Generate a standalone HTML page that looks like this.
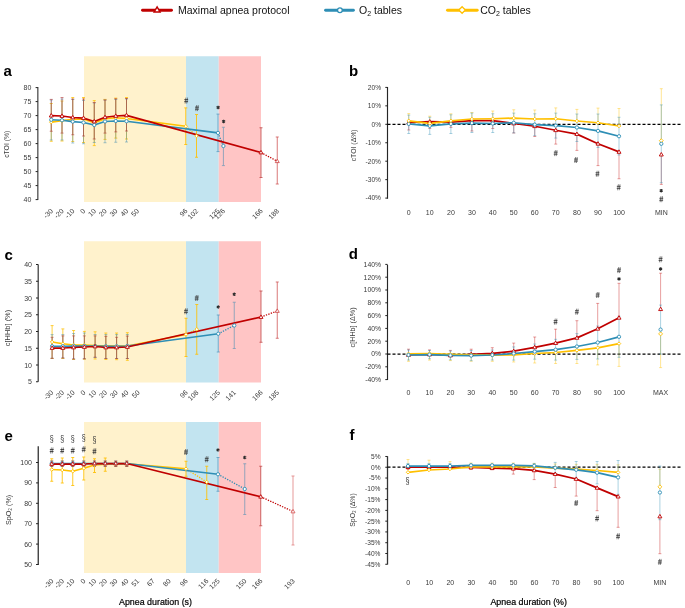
<!DOCTYPE html>
<html><head><meta charset="utf-8"><style>
html,body{margin:0;padding:0;background:#fff;width:685px;height:608px;overflow:hidden}
svg{display:block;will-change:transform}
text{font-family:"Liberation Sans",sans-serif}
</style></head><body>
<svg width="685" height="608" viewBox="0 0 685 608" font-family="Liberation Sans, sans-serif">
<rect width="685" height="608" fill="#fff"/>
<line x1="142.5" y1="10.2" x2="171.5" y2="10.2" stroke="#C00000" stroke-width="2.9" stroke-linecap="round"/>
<polygon points="157.1,6.85 160.09,12.05 154.11,12.05" fill="#fff" stroke="#C00000" stroke-width="1.4"/>
<text x="178" y="13.8" font-size="10.5" text-anchor="start" fill="#111" font-weight="normal" >Maximal apnea protocol</text>
<line x1="325.6" y1="10.2" x2="353.4" y2="10.2" stroke="#2E8EB5" stroke-width="2.9" stroke-linecap="round"/>
<circle cx="339.9" cy="10.2" r="2.39" fill="#fff" stroke="#2E8EB5" stroke-width="1.3"/>
<text x="359" y="13.8" font-size="10.5" fill="#111">O<tspan font-size="7" dy="2">2</tspan><tspan dy="-2"> tables</tspan></text>
<line x1="447.5" y1="10.2" x2="477.2" y2="10.2" stroke="#FFC000" stroke-width="2.9" stroke-linecap="round"/>
<polygon points="462.1,6.7 465.4,10 462.1,13.3 458.8,10" fill="#fff" stroke="#FFC000" stroke-width="1.3"/>
<text x="480.2" y="13.8" font-size="10.5" fill="#111">CO<tspan font-size="7" dy="2">2</tspan><tspan dy="-2"> tables</tspan></text>
<rect x="84" y="56.25" width="102" height="145.75" fill="#FFF2CC"/>
<rect x="186" y="56.25" width="32.75" height="145.75" fill="#C2E4F0"/>
<rect x="218.75" y="56.25" width="42.25" height="145.75" fill="#FFC5C5"/>
<text x="3.5" y="76" font-size="15" text-anchor="start" fill="#000" font-weight="bold" >a</text>
<line x1="37.8" y1="87.1" x2="37.8" y2="200" stroke="#666" stroke-width="1.5" />
<line x1="35.6" y1="87.6" x2="37.8" y2="87.6" stroke="#222" stroke-width="1" />
<text x="31.3" y="90.12" font-size="7.0" text-anchor="end" fill="#3a3a3a" font-weight="normal" >80</text>
<line x1="35.6" y1="101.6" x2="37.8" y2="101.6" stroke="#222" stroke-width="1" />
<text x="31.3" y="104.12" font-size="7.0" text-anchor="end" fill="#3a3a3a" font-weight="normal" >75</text>
<line x1="35.6" y1="115.6" x2="37.8" y2="115.6" stroke="#222" stroke-width="1" />
<text x="31.3" y="118.12" font-size="7.0" text-anchor="end" fill="#3a3a3a" font-weight="normal" >70</text>
<line x1="35.6" y1="129.6" x2="37.8" y2="129.6" stroke="#222" stroke-width="1" />
<text x="31.3" y="132.12" font-size="7.0" text-anchor="end" fill="#3a3a3a" font-weight="normal" >65</text>
<line x1="35.6" y1="143.6" x2="37.8" y2="143.6" stroke="#222" stroke-width="1" />
<text x="31.3" y="146.12" font-size="7.0" text-anchor="end" fill="#3a3a3a" font-weight="normal" >60</text>
<line x1="35.6" y1="157.6" x2="37.8" y2="157.6" stroke="#222" stroke-width="1" />
<text x="31.3" y="160.12" font-size="7.0" text-anchor="end" fill="#3a3a3a" font-weight="normal" >55</text>
<line x1="35.6" y1="171.6" x2="37.8" y2="171.6" stroke="#222" stroke-width="1" />
<text x="31.3" y="174.12" font-size="7.0" text-anchor="end" fill="#3a3a3a" font-weight="normal" >50</text>
<line x1="35.6" y1="185.6" x2="37.8" y2="185.6" stroke="#222" stroke-width="1" />
<text x="31.3" y="188.12" font-size="7.0" text-anchor="end" fill="#3a3a3a" font-weight="normal" >45</text>
<line x1="35.6" y1="199.6" x2="37.8" y2="199.6" stroke="#222" stroke-width="1" />
<text x="31.3" y="202.12" font-size="7.0" text-anchor="end" fill="#3a3a3a" font-weight="normal" >40</text>
<text transform="translate(9,144.3) rotate(-90)" x="0" y="0" font-size="8" text-anchor="middle" fill="#3a3a3a" textLength="27" lengthAdjust="spacingAndGlyphs">cTOI (%)</text>
<text transform="translate(53.45,211.6) rotate(-45)" x="0" y="0" font-size="7.0" text-anchor="end" fill="#3a3a3a">-30</text>
<text transform="translate(64.2,211.6) rotate(-45)" x="0" y="0" font-size="7.0" text-anchor="end" fill="#3a3a3a">-20</text>
<text transform="translate(74.95,211.6) rotate(-45)" x="0" y="0" font-size="7.0" text-anchor="end" fill="#3a3a3a">-10</text>
<text transform="translate(85.7,211.6) rotate(-45)" x="0" y="0" font-size="7.0" text-anchor="end" fill="#3a3a3a">0</text>
<text transform="translate(96.45,211.6) rotate(-45)" x="0" y="0" font-size="7.0" text-anchor="end" fill="#3a3a3a">10</text>
<text transform="translate(107.2,211.6) rotate(-45)" x="0" y="0" font-size="7.0" text-anchor="end" fill="#3a3a3a">20</text>
<text transform="translate(117.95,211.6) rotate(-45)" x="0" y="0" font-size="7.0" text-anchor="end" fill="#3a3a3a">30</text>
<text transform="translate(128.7,211.6) rotate(-45)" x="0" y="0" font-size="7.0" text-anchor="end" fill="#3a3a3a">40</text>
<text transform="translate(139.45,211.6) rotate(-45)" x="0" y="0" font-size="7.0" text-anchor="end" fill="#3a3a3a">50</text>
<text transform="translate(187.95,211.6) rotate(-45)" x="0" y="0" font-size="7.0" text-anchor="end" fill="#3a3a3a">96</text>
<text transform="translate(198.7,211.6) rotate(-45)" x="0" y="0" font-size="7.0" text-anchor="end" fill="#3a3a3a">102</text>
<text transform="translate(220.2,211.6) rotate(-45)" x="0" y="0" font-size="7.0" text-anchor="end" fill="#3a3a3a">125</text>
<text transform="translate(225.6,211.6) rotate(-45)" x="0" y="0" font-size="7.0" text-anchor="end" fill="#3a3a3a">126</text>
<text transform="translate(263.2,211.6) rotate(-45)" x="0" y="0" font-size="7.0" text-anchor="end" fill="#3a3a3a">166</text>
<text transform="translate(279.45,211.6) rotate(-45)" x="0" y="0" font-size="7.0" text-anchor="end" fill="#3a3a3a">188</text>
<g stroke="#FFC000" stroke-width="1" stroke-opacity="0.75"><line x1="51.25" y1="103.5" x2="51.25" y2="141.25"/><line x1="49.75" y1="103.5" x2="52.75" y2="103.5"/><line x1="49.75" y1="141.25" x2="52.75" y2="141.25"/></g>
<g stroke="#4A90B0" stroke-width="1" stroke-opacity="0.5"><line x1="51.25" y1="100" x2="51.25" y2="140"/><line x1="49.75" y1="100" x2="52.75" y2="100"/><line x1="49.75" y1="140" x2="52.75" y2="140"/></g>
<g stroke="#B03030" stroke-width="1" stroke-opacity="0.55"><line x1="51.25" y1="99.4" x2="51.25" y2="131.25"/><line x1="49.75" y1="99.4" x2="52.75" y2="99.4"/><line x1="49.75" y1="131.25" x2="52.75" y2="131.25"/></g>
<g stroke="#FFC000" stroke-width="1" stroke-opacity="0.75"><line x1="62" y1="101" x2="62" y2="141"/><line x1="60.5" y1="101" x2="63.5" y2="101"/><line x1="60.5" y1="141" x2="63.5" y2="141"/></g>
<g stroke="#4A90B0" stroke-width="1" stroke-opacity="0.5"><line x1="62" y1="99" x2="62" y2="140"/><line x1="60.5" y1="99" x2="63.5" y2="99"/><line x1="60.5" y1="140" x2="63.5" y2="140"/></g>
<g stroke="#B03030" stroke-width="1" stroke-opacity="0.55"><line x1="62" y1="97.5" x2="62" y2="133.1"/><line x1="60.5" y1="97.5" x2="63.5" y2="97.5"/><line x1="60.5" y1="133.1" x2="63.5" y2="133.1"/></g>
<g stroke="#FFC000" stroke-width="1" stroke-opacity="0.75"><line x1="72.75" y1="97.5" x2="72.75" y2="141.5"/><line x1="71.25" y1="97.5" x2="74.25" y2="97.5"/><line x1="71.25" y1="141.5" x2="74.25" y2="141.5"/></g>
<g stroke="#4A90B0" stroke-width="1" stroke-opacity="0.5"><line x1="72.75" y1="99.5" x2="72.75" y2="143"/><line x1="71.25" y1="99.5" x2="74.25" y2="99.5"/><line x1="71.25" y1="143" x2="74.25" y2="143"/></g>
<g stroke="#B03030" stroke-width="1" stroke-opacity="0.55"><line x1="72.75" y1="99" x2="72.75" y2="134.75"/><line x1="71.25" y1="99" x2="74.25" y2="99"/><line x1="71.25" y1="134.75" x2="74.25" y2="134.75"/></g>
<g stroke="#FFC000" stroke-width="1" stroke-opacity="0.75"><line x1="83.5" y1="97.5" x2="83.5" y2="142.5"/><line x1="82" y1="97.5" x2="85" y2="97.5"/><line x1="82" y1="142.5" x2="85" y2="142.5"/></g>
<g stroke="#4A90B0" stroke-width="1" stroke-opacity="0.5"><line x1="83.5" y1="100.5" x2="83.5" y2="143.75"/><line x1="82" y1="100.5" x2="85" y2="100.5"/><line x1="82" y1="143.75" x2="85" y2="143.75"/></g>
<g stroke="#B03030" stroke-width="1" stroke-opacity="0.55"><line x1="83.5" y1="99" x2="83.5" y2="136"/><line x1="82" y1="99" x2="85" y2="99"/><line x1="82" y1="136" x2="85" y2="136"/></g>
<g stroke="#FFC000" stroke-width="1" stroke-opacity="0.75"><line x1="94.25" y1="100.6" x2="94.25" y2="145.6"/><line x1="92.75" y1="100.6" x2="95.75" y2="100.6"/><line x1="92.75" y1="145.6" x2="95.75" y2="145.6"/></g>
<g stroke="#4A90B0" stroke-width="1" stroke-opacity="0.5"><line x1="94.25" y1="103" x2="94.25" y2="142.5"/><line x1="92.75" y1="103" x2="95.75" y2="103"/><line x1="92.75" y1="142.5" x2="95.75" y2="142.5"/></g>
<g stroke="#B03030" stroke-width="1" stroke-opacity="0.55"><line x1="94.25" y1="102.5" x2="94.25" y2="139"/><line x1="92.75" y1="102.5" x2="95.75" y2="102.5"/><line x1="92.75" y1="139" x2="95.75" y2="139"/></g>
<g stroke="#FFC000" stroke-width="1" stroke-opacity="0.75"><line x1="105" y1="99.4" x2="105" y2="139.4"/><line x1="103.5" y1="99.4" x2="106.5" y2="99.4"/><line x1="103.5" y1="139.4" x2="106.5" y2="139.4"/></g>
<g stroke="#4A90B0" stroke-width="1" stroke-opacity="0.5"><line x1="105" y1="100" x2="105" y2="142.75"/><line x1="103.5" y1="100" x2="106.5" y2="100"/><line x1="103.5" y1="142.75" x2="106.5" y2="142.75"/></g>
<g stroke="#B03030" stroke-width="1" stroke-opacity="0.55"><line x1="105" y1="100" x2="105" y2="133.1"/><line x1="103.5" y1="100" x2="106.5" y2="100"/><line x1="103.5" y1="133.1" x2="106.5" y2="133.1"/></g>
<g stroke="#FFC000" stroke-width="1" stroke-opacity="0.75"><line x1="115.75" y1="98.1" x2="115.75" y2="138.1"/><line x1="114.25" y1="98.1" x2="117.25" y2="98.1"/><line x1="114.25" y1="138.1" x2="117.25" y2="138.1"/></g>
<g stroke="#4A90B0" stroke-width="1" stroke-opacity="0.5"><line x1="115.75" y1="99.5" x2="115.75" y2="142.25"/><line x1="114.25" y1="99.5" x2="117.25" y2="99.5"/><line x1="114.25" y1="142.25" x2="117.25" y2="142.25"/></g>
<g stroke="#B03030" stroke-width="1" stroke-opacity="0.55"><line x1="115.75" y1="98.75" x2="115.75" y2="131.9"/><line x1="114.25" y1="98.75" x2="117.25" y2="98.75"/><line x1="114.25" y1="131.9" x2="117.25" y2="131.9"/></g>
<g stroke="#FFC000" stroke-width="1" stroke-opacity="0.75"><line x1="126.5" y1="97.5" x2="126.5" y2="139"/><line x1="125" y1="97.5" x2="128" y2="97.5"/><line x1="125" y1="139" x2="128" y2="139"/></g>
<g stroke="#4A90B0" stroke-width="1" stroke-opacity="0.5"><line x1="126.5" y1="99" x2="126.5" y2="142"/><line x1="125" y1="99" x2="128" y2="99"/><line x1="125" y1="142" x2="128" y2="142"/></g>
<g stroke="#B03030" stroke-width="1" stroke-opacity="0.55"><line x1="126.5" y1="98.5" x2="126.5" y2="131"/><line x1="125" y1="98.5" x2="128" y2="98.5"/><line x1="125" y1="131" x2="128" y2="131"/></g>
<g stroke="#FFC000" stroke-width="1" stroke-opacity="0.85"><line x1="185.75" y1="107.9" x2="185.75" y2="144.5"/><line x1="184.25" y1="107.9" x2="187.25" y2="107.9"/><line x1="184.25" y1="144.5" x2="187.25" y2="144.5"/></g>
<g stroke="#FFC000" stroke-width="1" stroke-opacity="0.85"><line x1="196.5" y1="114.5" x2="196.5" y2="157.25"/><line x1="195" y1="114.5" x2="198" y2="114.5"/><line x1="195" y1="157.25" x2="198" y2="157.25"/></g>
<g stroke="#5A9CC0" stroke-width="1" stroke-opacity="0.8"><line x1="218" y1="114.1" x2="218" y2="151.6"/><line x1="216.5" y1="114.1" x2="219.5" y2="114.1"/><line x1="216.5" y1="151.6" x2="219.5" y2="151.6"/></g>
<g stroke="#7A9CB8" stroke-width="1" stroke-opacity="0.8"><line x1="223.4" y1="127.25" x2="223.4" y2="165.6"/><line x1="221.9" y1="127.25" x2="224.9" y2="127.25"/><line x1="221.9" y1="165.6" x2="224.9" y2="165.6"/></g>
<g stroke="#C04848" stroke-width="1" stroke-opacity="0.8"><line x1="261" y1="127.75" x2="261" y2="177.5"/><line x1="259.5" y1="127.75" x2="262.5" y2="127.75"/><line x1="259.5" y1="177.5" x2="262.5" y2="177.5"/></g>
<g stroke="#D05858" stroke-width="1" stroke-opacity="0.8"><line x1="277.25" y1="137" x2="277.25" y2="184"/><line x1="275.75" y1="137" x2="278.75" y2="137"/><line x1="275.75" y1="184" x2="278.75" y2="184"/></g>
<polyline points="51.25,122.1 62,120.6 72.75,119.4 83.5,119 94.25,122.75 105,118.75 115.75,117.75 126.5,118.5 185.75,126.25" fill="none" stroke="#FFC000" stroke-width="1.75" stroke-linejoin="round" />
<line x1="185.75" y1="126.25" x2="196.5" y2="135.9" stroke="#FFC000" stroke-width="1.3" stroke-dasharray="1.3,1.3"/>
<polyline points="51.25,119.75 62,120.25 72.75,121.6 83.5,122.5 94.25,125 105,121.5 115.75,121 126.5,121.25 218,132.9" fill="none" stroke="#2E8EB5" stroke-width="1.75" stroke-linejoin="round" />
<line x1="218" y1="132.9" x2="223.4" y2="146" stroke="#2E8EB5" stroke-width="1.3" stroke-dasharray="1.3,1.3"/>
<polyline points="51.25,115.6 62,116 72.75,117.5 83.5,118.1 94.25,121.5 105,117.25 115.75,116 126.5,115.3 261,152.5" fill="none" stroke="#C00000" stroke-width="1.75" stroke-linejoin="round" />
<line x1="261" y1="152.5" x2="277.25" y2="161.25" stroke="#C00000" stroke-width="1.3" stroke-dasharray="1.3,1.3"/>
<polygon points="51.25,120.34 53.01,122.1 51.25,123.86 49.49,122.1" fill="#fff" stroke="#FFC000" stroke-width="0.9"/>
<circle cx="51.25" cy="119.75" r="1.65" fill="#fff" stroke="#2E8EB5" stroke-width="0.9"/>
<polygon points="51.25,113.5 53.24,116.96 49.26,116.96" fill="#fff" stroke="#C00000" stroke-width="0.9"/>
<polygon points="62,118.84 63.76,120.6 62,122.36 60.24,120.6" fill="#fff" stroke="#FFC000" stroke-width="0.9"/>
<circle cx="62" cy="120.25" r="1.65" fill="#fff" stroke="#2E8EB5" stroke-width="0.9"/>
<polygon points="62,113.9 63.99,117.36 60.01,117.36" fill="#fff" stroke="#C00000" stroke-width="0.9"/>
<polygon points="72.75,117.64 74.51,119.4 72.75,121.16 70.99,119.4" fill="#fff" stroke="#FFC000" stroke-width="0.9"/>
<circle cx="72.75" cy="121.6" r="1.65" fill="#fff" stroke="#2E8EB5" stroke-width="0.9"/>
<polygon points="72.75,115.4 74.75,118.86 70.75,118.86" fill="#fff" stroke="#C00000" stroke-width="0.9"/>
<polygon points="83.5,117.24 85.26,119 83.5,120.76 81.74,119" fill="#fff" stroke="#FFC000" stroke-width="0.9"/>
<circle cx="83.5" cy="122.5" r="1.65" fill="#fff" stroke="#2E8EB5" stroke-width="0.9"/>
<polygon points="83.5,116 85.5,119.46 81.5,119.46" fill="#fff" stroke="#C00000" stroke-width="0.9"/>
<polygon points="94.25,120.99 96.01,122.75 94.25,124.51 92.49,122.75" fill="#fff" stroke="#FFC000" stroke-width="0.9"/>
<circle cx="94.25" cy="125" r="1.65" fill="#fff" stroke="#2E8EB5" stroke-width="0.9"/>
<polygon points="94.25,119.4 96.25,122.86 92.25,122.86" fill="#fff" stroke="#C00000" stroke-width="0.9"/>
<polygon points="105,116.99 106.76,118.75 105,120.51 103.24,118.75" fill="#fff" stroke="#FFC000" stroke-width="0.9"/>
<circle cx="105" cy="121.5" r="1.65" fill="#fff" stroke="#2E8EB5" stroke-width="0.9"/>
<polygon points="105,115.15 107,118.61 103,118.61" fill="#fff" stroke="#C00000" stroke-width="0.9"/>
<polygon points="115.75,115.99 117.51,117.75 115.75,119.51 113.99,117.75" fill="#fff" stroke="#FFC000" stroke-width="0.9"/>
<circle cx="115.75" cy="121" r="1.65" fill="#fff" stroke="#2E8EB5" stroke-width="0.9"/>
<polygon points="115.75,113.9 117.75,117.36 113.75,117.36" fill="#fff" stroke="#C00000" stroke-width="0.9"/>
<polygon points="126.5,116.74 128.26,118.5 126.5,120.26 124.74,118.5" fill="#fff" stroke="#FFC000" stroke-width="0.9"/>
<circle cx="126.5" cy="121.25" r="1.65" fill="#fff" stroke="#2E8EB5" stroke-width="0.9"/>
<polygon points="126.5,113.2 128.5,116.66 124.5,116.66" fill="#fff" stroke="#C00000" stroke-width="0.9"/>
<polygon points="185.75,124.49 187.51,126.25 185.75,128.01 183.99,126.25" fill="#fff" stroke="#FFC000" stroke-width="0.9"/>
<polygon points="196.5,134.14 198.26,135.9 196.5,137.66 194.74,135.9" fill="#fff" stroke="#FFC000" stroke-width="0.9"/>
<circle cx="218" cy="132.9" r="1.65" fill="#fff" stroke="#2E8EB5" stroke-width="0.9"/>
<circle cx="223.4" cy="146" r="1.65" fill="#fff" stroke="#2E8EB5" stroke-width="0.9"/>
<polygon points="261,150.4 263,153.87 259,153.87" fill="#fff" stroke="#C00000" stroke-width="0.9"/>
<polygon points="277.25,159.15 279.25,162.62 275.25,162.62" fill="#fff" stroke="#D05050" stroke-width="0.9"/>
<path d="M185.9,97.6 L185.1,103.6 M187.5,97.6 L186.7,103.6" stroke="#3a3a3a" stroke-width="0.6" fill="none"/>
<path d="M184.35,99.65 L188.15,99.65 M184.25,101.65 L188.05,101.65" stroke="#2a2a2a" stroke-width="0.85" fill="none"/>
<path d="M196.65,105.1 L195.85,111.1 M198.25,105.1 L197.45,111.1" stroke="#3a3a3a" stroke-width="0.6" fill="none"/>
<path d="M195.1,107.15 L198.9,107.15 M195,109.15 L198.8,109.15" stroke="#2a2a2a" stroke-width="0.85" fill="none"/>
<path d="M218.1,105.65 L218.1,109.15 M216.58,106.53 L219.62,108.28 M219.62,106.53 L216.58,108.28" stroke="#2a2a2a" stroke-width="1.05" fill="none"/>
<path d="M223.6,119.65 L223.6,123.15 M222.08,120.53 L225.12,122.28 M225.12,120.53 L222.08,122.28" stroke="#2a2a2a" stroke-width="1.05" fill="none"/>
<text x="349" y="75.5" font-size="15" text-anchor="start" fill="#000" font-weight="bold" >b</text>
<line x1="387.5" y1="87" x2="387.5" y2="198.75" stroke="#262626" stroke-width="1.15" />
<line x1="385.3" y1="87.4" x2="387.5" y2="87.4" stroke="#222" stroke-width="1" />
<text x="381" y="89.78" font-size="6.6" text-anchor="end" fill="#3a3a3a" font-weight="normal" >20%</text>
<line x1="385.3" y1="105.85" x2="387.5" y2="105.85" stroke="#222" stroke-width="1" />
<text x="381" y="108.23" font-size="6.6" text-anchor="end" fill="#3a3a3a" font-weight="normal" >10%</text>
<line x1="385.3" y1="124.3" x2="387.5" y2="124.3" stroke="#222" stroke-width="1" />
<text x="381" y="126.68" font-size="6.6" text-anchor="end" fill="#3a3a3a" font-weight="normal" >0%</text>
<line x1="385.3" y1="142.75" x2="387.5" y2="142.75" stroke="#222" stroke-width="1" />
<text x="381" y="145.13" font-size="6.6" text-anchor="end" fill="#3a3a3a" font-weight="normal" >-10%</text>
<line x1="385.3" y1="161.2" x2="387.5" y2="161.2" stroke="#222" stroke-width="1" />
<text x="381" y="163.58" font-size="6.6" text-anchor="end" fill="#3a3a3a" font-weight="normal" >-20%</text>
<line x1="385.3" y1="179.65" x2="387.5" y2="179.65" stroke="#222" stroke-width="1" />
<text x="381" y="182.03" font-size="6.6" text-anchor="end" fill="#3a3a3a" font-weight="normal" >-30%</text>
<line x1="385.3" y1="198.1" x2="387.5" y2="198.1" stroke="#222" stroke-width="1" />
<text x="381" y="200.48" font-size="6.6" text-anchor="end" fill="#3a3a3a" font-weight="normal" >-40%</text>
<text transform="translate(355.6,145.35) rotate(-90)" x="0" y="0" font-size="8" text-anchor="middle" fill="#3a3a3a" textLength="32" lengthAdjust="spacingAndGlyphs">cTOI (Δ%)</text>
<text x="408.75" y="215.2" font-size="7.0" text-anchor="middle" fill="#3a3a3a" font-weight="normal" >0</text>
<text x="429.75" y="215.2" font-size="7.0" text-anchor="middle" fill="#3a3a3a" font-weight="normal" >10</text>
<text x="450.9" y="215.2" font-size="7.0" text-anchor="middle" fill="#3a3a3a" font-weight="normal" >20</text>
<text x="471.9" y="215.2" font-size="7.0" text-anchor="middle" fill="#3a3a3a" font-weight="normal" >30</text>
<text x="492.75" y="215.2" font-size="7.0" text-anchor="middle" fill="#3a3a3a" font-weight="normal" >40</text>
<text x="513.75" y="215.2" font-size="7.0" text-anchor="middle" fill="#3a3a3a" font-weight="normal" >50</text>
<text x="534.75" y="215.2" font-size="7.0" text-anchor="middle" fill="#3a3a3a" font-weight="normal" >60</text>
<text x="555.75" y="215.2" font-size="7.0" text-anchor="middle" fill="#3a3a3a" font-weight="normal" >70</text>
<text x="576.9" y="215.2" font-size="7.0" text-anchor="middle" fill="#3a3a3a" font-weight="normal" >80</text>
<text x="598" y="215.2" font-size="7.0" text-anchor="middle" fill="#3a3a3a" font-weight="normal" >90</text>
<text x="619" y="215.2" font-size="7.0" text-anchor="middle" fill="#3a3a3a" font-weight="normal" >100</text>
<text x="661.3" y="215.2" font-size="7.0" text-anchor="middle" fill="#3a3a3a" font-weight="normal" >MIN</text>
<line x1="387.5" y1="124.3" x2="682.5" y2="124.3" stroke="#000" stroke-width="1.2" stroke-dasharray="3,2"/>
<g stroke="#FFC000" stroke-width="1" stroke-opacity="0.42"><line x1="408.75" y1="120.8" x2="408.75" y2="113.6"/><line x1="407.25" y1="113.6" x2="410.25" y2="113.6"/></g>
<g stroke="#C00000" stroke-width="1" stroke-opacity="0.38"><line x1="408.75" y1="122.5" x2="408.75" y2="130"/><line x1="407.25" y1="130" x2="410.25" y2="130"/></g>
<g stroke="#2E8EB5" stroke-width="1" stroke-opacity="0.4"><line x1="408.75" y1="115.1" x2="408.75" y2="133.5"/><line x1="407.25" y1="115.1" x2="410.25" y2="115.1"/><line x1="407.25" y1="133.5" x2="410.25" y2="133.5"/></g>
<g stroke="#FFC000" stroke-width="1" stroke-opacity="0.42"><line x1="429.75" y1="123.4" x2="429.75" y2="116.2"/><line x1="428.25" y1="116.2" x2="431.25" y2="116.2"/></g>
<g stroke="#C00000" stroke-width="1" stroke-opacity="0.38"><line x1="429.75" y1="121.7" x2="429.75" y2="128.5"/><line x1="428.25" y1="128.5" x2="431.25" y2="128.5"/></g>
<g stroke="#2E8EB5" stroke-width="1" stroke-opacity="0.4"><line x1="429.75" y1="117.3" x2="429.75" y2="134.4"/><line x1="428.25" y1="117.3" x2="431.25" y2="117.3"/><line x1="428.25" y1="134.4" x2="431.25" y2="134.4"/></g>
<g stroke="#FFC000" stroke-width="1" stroke-opacity="0.42"><line x1="450.9" y1="120.8" x2="450.9" y2="113.8"/><line x1="449.4" y1="113.8" x2="452.4" y2="113.8"/></g>
<g stroke="#C00000" stroke-width="1" stroke-opacity="0.38"><line x1="450.9" y1="122.1" x2="450.9" y2="127.4"/><line x1="449.4" y1="127.4" x2="452.4" y2="127.4"/></g>
<g stroke="#2E8EB5" stroke-width="1" stroke-opacity="0.4"><line x1="450.9" y1="114.8" x2="450.9" y2="133.5"/><line x1="449.4" y1="114.8" x2="452.4" y2="114.8"/><line x1="449.4" y1="133.5" x2="452.4" y2="133.5"/></g>
<g stroke="#FFC000" stroke-width="1" stroke-opacity="0.42"><line x1="471.9" y1="119" x2="471.9" y2="112.5"/><line x1="470.4" y1="112.5" x2="473.4" y2="112.5"/></g>
<g stroke="#C00000" stroke-width="1" stroke-opacity="0.38"><line x1="471.9" y1="120.6" x2="471.9" y2="131"/><line x1="470.4" y1="131" x2="473.4" y2="131"/></g>
<g stroke="#2E8EB5" stroke-width="1" stroke-opacity="0.4"><line x1="471.9" y1="113.1" x2="471.9" y2="132.5"/><line x1="470.4" y1="113.1" x2="473.4" y2="113.1"/><line x1="470.4" y1="132.5" x2="473.4" y2="132.5"/></g>
<g stroke="#FFC000" stroke-width="1" stroke-opacity="0.42"><line x1="492.75" y1="118.75" x2="492.75" y2="111"/><line x1="491.25" y1="111" x2="494.25" y2="111"/></g>
<g stroke="#C00000" stroke-width="1" stroke-opacity="0.38"><line x1="492.75" y1="120.6" x2="492.75" y2="128.5"/><line x1="491.25" y1="128.5" x2="494.25" y2="128.5"/></g>
<g stroke="#2E8EB5" stroke-width="1" stroke-opacity="0.4"><line x1="492.75" y1="113.75" x2="492.75" y2="132.5"/><line x1="491.25" y1="113.75" x2="494.25" y2="113.75"/><line x1="491.25" y1="132.5" x2="494.25" y2="132.5"/></g>
<g stroke="#FFC000" stroke-width="1" stroke-opacity="0.42"><line x1="513.75" y1="118.1" x2="513.75" y2="109.75"/><line x1="512.25" y1="109.75" x2="515.25" y2="109.75"/></g>
<g stroke="#C00000" stroke-width="1" stroke-opacity="0.38"><line x1="513.75" y1="123.5" x2="513.75" y2="133"/><line x1="512.25" y1="133" x2="515.25" y2="133"/></g>
<g stroke="#2E8EB5" stroke-width="1" stroke-opacity="0.4"><line x1="513.75" y1="113.1" x2="513.75" y2="132.9"/><line x1="512.25" y1="113.1" x2="515.25" y2="113.1"/><line x1="512.25" y1="132.9" x2="515.25" y2="132.9"/></g>
<g stroke="#FFC000" stroke-width="1" stroke-opacity="0.42"><line x1="534.75" y1="119" x2="534.75" y2="110"/><line x1="533.25" y1="110" x2="536.25" y2="110"/></g>
<g stroke="#C00000" stroke-width="1" stroke-opacity="0.38"><line x1="534.75" y1="126.25" x2="534.75" y2="136.5"/><line x1="533.25" y1="136.5" x2="536.25" y2="136.5"/></g>
<g stroke="#2E8EB5" stroke-width="1" stroke-opacity="0.4"><line x1="534.75" y1="113.75" x2="534.75" y2="135.6"/><line x1="533.25" y1="113.75" x2="536.25" y2="113.75"/><line x1="533.25" y1="135.6" x2="536.25" y2="135.6"/></g>
<g stroke="#FFC000" stroke-width="1" stroke-opacity="0.42"><line x1="555.75" y1="118.75" x2="555.75" y2="107.9"/><line x1="554.25" y1="107.9" x2="557.25" y2="107.9"/></g>
<g stroke="#C00000" stroke-width="1" stroke-opacity="0.38"><line x1="555.75" y1="130.25" x2="555.75" y2="144.1"/><line x1="554.25" y1="144.1" x2="557.25" y2="144.1"/></g>
<g stroke="#2E8EB5" stroke-width="1" stroke-opacity="0.4"><line x1="555.75" y1="113.1" x2="555.75" y2="138.1"/><line x1="554.25" y1="113.1" x2="557.25" y2="113.1"/><line x1="554.25" y1="138.1" x2="557.25" y2="138.1"/></g>
<g stroke="#FFC000" stroke-width="1" stroke-opacity="0.42"><line x1="576.9" y1="121" x2="576.9" y2="109.4"/><line x1="575.4" y1="109.4" x2="578.4" y2="109.4"/></g>
<g stroke="#C00000" stroke-width="1" stroke-opacity="0.38"><line x1="576.9" y1="134.1" x2="576.9" y2="150.4"/><line x1="575.4" y1="150.4" x2="578.4" y2="150.4"/></g>
<g stroke="#2E8EB5" stroke-width="1" stroke-opacity="0.4"><line x1="576.9" y1="114" x2="576.9" y2="141.5"/><line x1="575.4" y1="114" x2="578.4" y2="114"/><line x1="575.4" y1="141.5" x2="578.4" y2="141.5"/></g>
<g stroke="#FFC000" stroke-width="1" stroke-opacity="0.42"><line x1="598" y1="122.75" x2="598" y2="108.1"/><line x1="596.5" y1="108.1" x2="599.5" y2="108.1"/></g>
<g stroke="#C00000" stroke-width="1" stroke-opacity="0.38"><line x1="598" y1="143.75" x2="598" y2="165.6"/><line x1="596.5" y1="165.6" x2="599.5" y2="165.6"/></g>
<g stroke="#2E8EB5" stroke-width="1" stroke-opacity="0.4"><line x1="598" y1="114" x2="598" y2="147.5"/><line x1="596.5" y1="114" x2="599.5" y2="114"/><line x1="596.5" y1="147.5" x2="599.5" y2="147.5"/></g>
<g stroke="#FFC000" stroke-width="1" stroke-opacity="0.42"><line x1="619" y1="126" x2="619" y2="108.5"/><line x1="617.5" y1="108.5" x2="620.5" y2="108.5"/></g>
<g stroke="#C00000" stroke-width="1" stroke-opacity="0.38"><line x1="619" y1="151.9" x2="619" y2="178.75"/><line x1="617.5" y1="178.75" x2="620.5" y2="178.75"/></g>
<g stroke="#2E8EB5" stroke-width="1" stroke-opacity="0.4"><line x1="619" y1="117.25" x2="619" y2="155"/><line x1="617.5" y1="117.25" x2="620.5" y2="117.25"/><line x1="617.5" y1="155" x2="620.5" y2="155"/></g>
<g stroke="#FFC000" stroke-width="1" stroke-opacity="0.42"><line x1="661.3" y1="140.7" x2="661.3" y2="88.7"/><line x1="659.8" y1="88.7" x2="662.8" y2="88.7"/></g>
<g stroke="#C00000" stroke-width="1" stroke-opacity="0.38"><line x1="661.3" y1="154.6" x2="661.3" y2="184.4"/><line x1="659.8" y1="184.4" x2="662.8" y2="184.4"/></g>
<g stroke="#2E8EB5" stroke-width="1" stroke-opacity="0.4"><line x1="661.3" y1="104.9" x2="661.3" y2="182.7"/><line x1="659.8" y1="104.9" x2="662.8" y2="104.9"/><line x1="659.8" y1="182.7" x2="662.8" y2="182.7"/></g>
<polyline points="408.75,122.5 429.75,121.7 450.9,122.1 471.9,120.6 492.75,120.6 513.75,123.5 534.75,126.25 555.75,130.25 576.9,134.1 598,143.75 619,151.9" fill="none" stroke="#C00000" stroke-width="1.75" stroke-linejoin="round" />
<polyline points="408.75,123.9 429.75,125.9 450.9,123.9 471.9,123.1 492.75,123.5 513.75,122.75 534.75,124.6 555.75,125.6 576.9,127.5 598,130.9 619,136.25" fill="none" stroke="#2E8EB5" stroke-width="1.75" stroke-linejoin="round" />
<polyline points="408.75,120.8 429.75,123.4 450.9,120.8 471.9,119 492.75,118.75 513.75,118.1 534.75,119 555.75,118.75 576.9,121 598,122.75 619,126" fill="none" stroke="#FFC000" stroke-width="1.75" stroke-linejoin="round" />
<polygon points="408.75,120.4 410.75,123.86 406.75,123.86" fill="#fff" stroke="#C00000" stroke-width="0.9"/>
<circle cx="408.75" cy="123.9" r="1.65" fill="#fff" stroke="#2E8EB5" stroke-width="0.9"/>
<polygon points="408.75,119.04 410.51,120.8 408.75,122.56 406.99,120.8" fill="#fff" stroke="#FFC000" stroke-width="0.9"/>
<polygon points="429.75,119.6 431.75,123.06 427.75,123.06" fill="#fff" stroke="#C00000" stroke-width="0.9"/>
<circle cx="429.75" cy="125.9" r="1.65" fill="#fff" stroke="#2E8EB5" stroke-width="0.9"/>
<polygon points="429.75,121.64 431.51,123.4 429.75,125.16 427.99,123.4" fill="#fff" stroke="#FFC000" stroke-width="0.9"/>
<polygon points="450.9,120 452.89,123.46 448.9,123.46" fill="#fff" stroke="#C00000" stroke-width="0.9"/>
<circle cx="450.9" cy="123.9" r="1.65" fill="#fff" stroke="#2E8EB5" stroke-width="0.9"/>
<polygon points="450.9,119.04 452.66,120.8 450.9,122.56 449.14,120.8" fill="#fff" stroke="#FFC000" stroke-width="0.9"/>
<polygon points="471.9,118.5 473.89,121.96 469.9,121.96" fill="#fff" stroke="#C00000" stroke-width="0.9"/>
<circle cx="471.9" cy="123.1" r="1.65" fill="#fff" stroke="#2E8EB5" stroke-width="0.9"/>
<polygon points="471.9,117.24 473.66,119 471.9,120.76 470.14,119" fill="#fff" stroke="#FFC000" stroke-width="0.9"/>
<polygon points="492.75,118.5 494.75,121.96 490.75,121.96" fill="#fff" stroke="#C00000" stroke-width="0.9"/>
<circle cx="492.75" cy="123.5" r="1.65" fill="#fff" stroke="#2E8EB5" stroke-width="0.9"/>
<polygon points="492.75,116.99 494.51,118.75 492.75,120.51 490.99,118.75" fill="#fff" stroke="#FFC000" stroke-width="0.9"/>
<polygon points="513.75,121.4 515.75,124.86 511.75,124.86" fill="#fff" stroke="#C00000" stroke-width="0.9"/>
<circle cx="513.75" cy="122.75" r="1.65" fill="#fff" stroke="#2E8EB5" stroke-width="0.9"/>
<polygon points="513.75,116.34 515.51,118.1 513.75,119.86 511.99,118.1" fill="#fff" stroke="#FFC000" stroke-width="0.9"/>
<polygon points="534.75,124.15 536.75,127.61 532.75,127.61" fill="#fff" stroke="#C00000" stroke-width="0.9"/>
<circle cx="534.75" cy="124.6" r="1.65" fill="#fff" stroke="#2E8EB5" stroke-width="0.9"/>
<polygon points="534.75,117.24 536.51,119 534.75,120.76 532.99,119" fill="#fff" stroke="#FFC000" stroke-width="0.9"/>
<polygon points="555.75,128.15 557.75,131.62 553.75,131.62" fill="#fff" stroke="#C00000" stroke-width="0.9"/>
<circle cx="555.75" cy="125.6" r="1.65" fill="#fff" stroke="#2E8EB5" stroke-width="0.9"/>
<polygon points="555.75,116.99 557.51,118.75 555.75,120.51 553.99,118.75" fill="#fff" stroke="#FFC000" stroke-width="0.9"/>
<polygon points="576.9,132 578.89,135.47 574.9,135.47" fill="#fff" stroke="#C00000" stroke-width="0.9"/>
<circle cx="576.9" cy="127.5" r="1.65" fill="#fff" stroke="#2E8EB5" stroke-width="0.9"/>
<polygon points="576.9,119.24 578.66,121 576.9,122.76 575.14,121" fill="#fff" stroke="#FFC000" stroke-width="0.9"/>
<polygon points="598,141.65 600,145.12 596,145.12" fill="#fff" stroke="#C00000" stroke-width="0.9"/>
<circle cx="598" cy="130.9" r="1.65" fill="#fff" stroke="#2E8EB5" stroke-width="0.9"/>
<polygon points="598,120.99 599.76,122.75 598,124.51 596.24,122.75" fill="#fff" stroke="#FFC000" stroke-width="0.9"/>
<polygon points="619,149.8 621,153.27 617,153.27" fill="#fff" stroke="#C00000" stroke-width="0.9"/>
<circle cx="619" cy="136.25" r="1.65" fill="#fff" stroke="#2E8EB5" stroke-width="0.9"/>
<polygon points="619,124.24 620.76,126 619,127.76 617.24,126" fill="#fff" stroke="#FFC000" stroke-width="0.9"/>
<polygon points="661.3,138.72 663.28,140.7 661.3,142.68 659.32,140.7" fill="#fff" stroke="#FFC000" stroke-width="0.9"/>
<circle cx="661.3" cy="143.8" r="1.65" fill="#fff" stroke="#2E8EB5" stroke-width="0.9"/>
<polygon points="661.3,152.5 663.29,155.97 659.3,155.97" fill="#fff" stroke="#C00000" stroke-width="0.9"/>
<path d="M555.4,150.1 L554.6,156.1 M557,150.1 L556.2,156.1" stroke="#3a3a3a" stroke-width="0.6" fill="none"/>
<path d="M553.85,152.15 L557.65,152.15 M553.75,154.15 L557.55,154.15" stroke="#2a2a2a" stroke-width="0.85" fill="none"/>
<path d="M575.65,157 L574.85,163 M577.25,157 L576.45,163" stroke="#3a3a3a" stroke-width="0.6" fill="none"/>
<path d="M574.1,159.05 L577.9,159.05 M574,161.05 L577.8,161.05" stroke="#2a2a2a" stroke-width="0.85" fill="none"/>
<path d="M597.15,170.75 L596.35,176.75 M598.75,170.75 L597.95,176.75" stroke="#3a3a3a" stroke-width="0.6" fill="none"/>
<path d="M595.6,172.8 L599.4,172.8 M595.5,174.8 L599.3,174.8" stroke="#2a2a2a" stroke-width="0.85" fill="none"/>
<path d="M618.4,184.25 L617.6,190.25 M620,184.25 L619.2,190.25" stroke="#3a3a3a" stroke-width="0.6" fill="none"/>
<path d="M616.85,186.3 L620.65,186.3 M616.75,188.3 L620.55,188.3" stroke="#2a2a2a" stroke-width="0.85" fill="none"/>
<path d="M661.2,188.95 L661.2,192.45 M659.68,189.82 L662.72,191.57 M662.72,189.82 L659.68,191.57" stroke="#2a2a2a" stroke-width="1.05" fill="none"/>
<path d="M660.95,196.2 L660.15,202.2 M662.55,196.2 L661.75,202.2" stroke="#3a3a3a" stroke-width="0.6" fill="none"/>
<path d="M659.4,198.25 L663.2,198.25 M659.3,200.25 L663.1,200.25" stroke="#2a2a2a" stroke-width="0.85" fill="none"/>
<rect x="84" y="241.25" width="102" height="141.25" fill="#FFF2CC"/>
<rect x="186" y="241.25" width="32.75" height="141.25" fill="#C2E4F0"/>
<rect x="218.75" y="241.25" width="42.25" height="141.25" fill="#FFC5C5"/>
<text x="4.5" y="260" font-size="15" text-anchor="start" fill="#000" font-weight="bold" >c</text>
<line x1="38.2" y1="264.5" x2="38.2" y2="381.75" stroke="#333" stroke-width="1.2" />
<line x1="36" y1="264.5" x2="38.2" y2="264.5" stroke="#222" stroke-width="1" />
<text x="32" y="267.02" font-size="7.0" text-anchor="end" fill="#3a3a3a" font-weight="normal" >40</text>
<line x1="36" y1="281.25" x2="38.2" y2="281.25" stroke="#222" stroke-width="1" />
<text x="32" y="283.77" font-size="7.0" text-anchor="end" fill="#3a3a3a" font-weight="normal" >35</text>
<line x1="36" y1="298" x2="38.2" y2="298" stroke="#222" stroke-width="1" />
<text x="32" y="300.52" font-size="7.0" text-anchor="end" fill="#3a3a3a" font-weight="normal" >30</text>
<line x1="36" y1="314.75" x2="38.2" y2="314.75" stroke="#222" stroke-width="1" />
<text x="32" y="317.27" font-size="7.0" text-anchor="end" fill="#3a3a3a" font-weight="normal" >25</text>
<line x1="36" y1="331.5" x2="38.2" y2="331.5" stroke="#222" stroke-width="1" />
<text x="32" y="334.02" font-size="7.0" text-anchor="end" fill="#3a3a3a" font-weight="normal" >20</text>
<line x1="36" y1="348.25" x2="38.2" y2="348.25" stroke="#222" stroke-width="1" />
<text x="32" y="350.77" font-size="7.0" text-anchor="end" fill="#3a3a3a" font-weight="normal" >15</text>
<line x1="36" y1="365" x2="38.2" y2="365" stroke="#222" stroke-width="1" />
<text x="32" y="367.52" font-size="7.0" text-anchor="end" fill="#3a3a3a" font-weight="normal" >10</text>
<line x1="36" y1="381.75" x2="38.2" y2="381.75" stroke="#222" stroke-width="1" />
<text x="32" y="384.27" font-size="7.0" text-anchor="end" fill="#3a3a3a" font-weight="normal" >5</text>
<text transform="translate(9.9,328) rotate(-90)" x="0" y="0" font-size="7.8" text-anchor="middle" fill="#3a3a3a" textLength="36.5" lengthAdjust="spacingAndGlyphs">c[HHb] (%)</text>
<text transform="translate(53.8,392.9) rotate(-45)" x="0" y="0" font-size="7.0" text-anchor="end" fill="#3a3a3a">-30</text>
<text transform="translate(64.55,392.9) rotate(-45)" x="0" y="0" font-size="7.0" text-anchor="end" fill="#3a3a3a">-20</text>
<text transform="translate(75.3,392.9) rotate(-45)" x="0" y="0" font-size="7.0" text-anchor="end" fill="#3a3a3a">-10</text>
<text transform="translate(86.05,392.9) rotate(-45)" x="0" y="0" font-size="7.0" text-anchor="end" fill="#3a3a3a">0</text>
<text transform="translate(96.8,392.9) rotate(-45)" x="0" y="0" font-size="7.0" text-anchor="end" fill="#3a3a3a">10</text>
<text transform="translate(107.55,392.9) rotate(-45)" x="0" y="0" font-size="7.0" text-anchor="end" fill="#3a3a3a">20</text>
<text transform="translate(118.3,392.9) rotate(-45)" x="0" y="0" font-size="7.0" text-anchor="end" fill="#3a3a3a">30</text>
<text transform="translate(129.05,392.9) rotate(-45)" x="0" y="0" font-size="7.0" text-anchor="end" fill="#3a3a3a">40</text>
<text transform="translate(140.2,392.9) rotate(-45)" x="0" y="0" font-size="7.0" text-anchor="end" fill="#3a3a3a">50</text>
<text transform="translate(188.2,392.9) rotate(-45)" x="0" y="0" font-size="7.0" text-anchor="end" fill="#3a3a3a">96</text>
<text transform="translate(198.95,392.9) rotate(-45)" x="0" y="0" font-size="7.0" text-anchor="end" fill="#3a3a3a">108</text>
<text transform="translate(220.45,392.9) rotate(-45)" x="0" y="0" font-size="7.0" text-anchor="end" fill="#3a3a3a">125</text>
<text transform="translate(236.45,392.9) rotate(-45)" x="0" y="0" font-size="7.0" text-anchor="end" fill="#3a3a3a">141</text>
<text transform="translate(263.2,392.9) rotate(-45)" x="0" y="0" font-size="7.0" text-anchor="end" fill="#3a3a3a">166</text>
<text transform="translate(279.45,392.9) rotate(-45)" x="0" y="0" font-size="7.0" text-anchor="end" fill="#3a3a3a">185</text>
<g stroke="#FFC000" stroke-width="1" stroke-opacity="0.75"><line x1="52.1" y1="325.6" x2="52.1" y2="358.5"/><line x1="50.6" y1="325.6" x2="53.6" y2="325.6"/><line x1="50.6" y1="358.5" x2="53.6" y2="358.5"/></g>
<g stroke="#4A90B0" stroke-width="1" stroke-opacity="0.5"><line x1="52.1" y1="334.6" x2="52.1" y2="358.3"/><line x1="50.6" y1="334.6" x2="53.6" y2="334.6"/><line x1="50.6" y1="358.3" x2="53.6" y2="358.3"/></g>
<g stroke="#B03030" stroke-width="1" stroke-opacity="0.55"><line x1="52.1" y1="337.3" x2="52.1" y2="358.3"/><line x1="50.6" y1="337.3" x2="53.6" y2="337.3"/><line x1="50.6" y1="358.3" x2="53.6" y2="358.3"/></g>
<g stroke="#FFC000" stroke-width="1" stroke-opacity="0.75"><line x1="62.85" y1="328.9" x2="62.85" y2="358.5"/><line x1="61.35" y1="328.9" x2="64.35" y2="328.9"/><line x1="61.35" y1="358.5" x2="64.35" y2="358.5"/></g>
<g stroke="#4A90B0" stroke-width="1" stroke-opacity="0.5"><line x1="62.85" y1="334.6" x2="62.85" y2="358"/><line x1="61.35" y1="334.6" x2="64.35" y2="334.6"/><line x1="61.35" y1="358" x2="64.35" y2="358"/></g>
<g stroke="#B03030" stroke-width="1" stroke-opacity="0.55"><line x1="62.85" y1="335.9" x2="62.85" y2="358"/><line x1="61.35" y1="335.9" x2="64.35" y2="335.9"/><line x1="61.35" y1="358" x2="64.35" y2="358"/></g>
<g stroke="#FFC000" stroke-width="1" stroke-opacity="0.75"><line x1="73.6" y1="330.5" x2="73.6" y2="359.5"/><line x1="72.1" y1="330.5" x2="75.1" y2="330.5"/><line x1="72.1" y1="359.5" x2="75.1" y2="359.5"/></g>
<g stroke="#4A90B0" stroke-width="1" stroke-opacity="0.5"><line x1="73.6" y1="333.5" x2="73.6" y2="359"/><line x1="72.1" y1="333.5" x2="75.1" y2="333.5"/><line x1="72.1" y1="359" x2="75.1" y2="359"/></g>
<g stroke="#B03030" stroke-width="1" stroke-opacity="0.55"><line x1="73.6" y1="335.9" x2="73.6" y2="359"/><line x1="72.1" y1="335.9" x2="75.1" y2="335.9"/><line x1="72.1" y1="359" x2="75.1" y2="359"/></g>
<g stroke="#FFC000" stroke-width="1" stroke-opacity="0.75"><line x1="84.35" y1="331.4" x2="84.35" y2="359.2"/><line x1="82.85" y1="331.4" x2="85.85" y2="331.4"/><line x1="82.85" y1="359.2" x2="85.85" y2="359.2"/></g>
<g stroke="#4A90B0" stroke-width="1" stroke-opacity="0.5"><line x1="84.35" y1="333" x2="84.35" y2="358.8"/><line x1="82.85" y1="333" x2="85.85" y2="333"/><line x1="82.85" y1="358.8" x2="85.85" y2="358.8"/></g>
<g stroke="#B03030" stroke-width="1" stroke-opacity="0.55"><line x1="84.35" y1="335.9" x2="84.35" y2="358.8"/><line x1="82.85" y1="335.9" x2="85.85" y2="335.9"/><line x1="82.85" y1="358.8" x2="85.85" y2="358.8"/></g>
<g stroke="#FFC000" stroke-width="1" stroke-opacity="0.75"><line x1="95.1" y1="331.8" x2="95.1" y2="359"/><line x1="93.6" y1="331.8" x2="96.6" y2="331.8"/><line x1="93.6" y1="359" x2="96.6" y2="359"/></g>
<g stroke="#4A90B0" stroke-width="1" stroke-opacity="0.5"><line x1="95.1" y1="334.5" x2="95.1" y2="357.5"/><line x1="93.6" y1="334.5" x2="96.6" y2="334.5"/><line x1="93.6" y1="357.5" x2="96.6" y2="357.5"/></g>
<g stroke="#B03030" stroke-width="1" stroke-opacity="0.55"><line x1="95.1" y1="335.9" x2="95.1" y2="357.2"/><line x1="93.6" y1="335.9" x2="96.6" y2="335.9"/><line x1="93.6" y1="357.2" x2="96.6" y2="357.2"/></g>
<g stroke="#FFC000" stroke-width="1" stroke-opacity="0.75"><line x1="105.85" y1="333" x2="105.85" y2="359.5"/><line x1="104.35" y1="333" x2="107.35" y2="333"/><line x1="104.35" y1="359.5" x2="107.35" y2="359.5"/></g>
<g stroke="#4A90B0" stroke-width="1" stroke-opacity="0.5"><line x1="105.85" y1="334.6" x2="105.85" y2="358.5"/><line x1="104.35" y1="334.6" x2="107.35" y2="334.6"/><line x1="104.35" y1="358.5" x2="107.35" y2="358.5"/></g>
<g stroke="#B03030" stroke-width="1" stroke-opacity="0.55"><line x1="105.85" y1="336.4" x2="105.85" y2="358.5"/><line x1="104.35" y1="336.4" x2="107.35" y2="336.4"/><line x1="104.35" y1="358.5" x2="107.35" y2="358.5"/></g>
<g stroke="#FFC000" stroke-width="1" stroke-opacity="0.75"><line x1="116.6" y1="333" x2="116.6" y2="359.7"/><line x1="115.1" y1="333" x2="118.1" y2="333"/><line x1="115.1" y1="359.7" x2="118.1" y2="359.7"/></g>
<g stroke="#4A90B0" stroke-width="1" stroke-opacity="0.5"><line x1="116.6" y1="334.6" x2="116.6" y2="358.5"/><line x1="115.1" y1="334.6" x2="118.1" y2="334.6"/><line x1="115.1" y1="358.5" x2="118.1" y2="358.5"/></g>
<g stroke="#B03030" stroke-width="1" stroke-opacity="0.55"><line x1="116.6" y1="337.3" x2="116.6" y2="358.5"/><line x1="115.1" y1="337.3" x2="118.1" y2="337.3"/><line x1="115.1" y1="358.5" x2="118.1" y2="358.5"/></g>
<g stroke="#FFC000" stroke-width="1" stroke-opacity="0.75"><line x1="127.35" y1="332.7" x2="127.35" y2="360.3"/><line x1="125.85" y1="332.7" x2="128.85" y2="332.7"/><line x1="125.85" y1="360.3" x2="128.85" y2="360.3"/></g>
<g stroke="#4A90B0" stroke-width="1" stroke-opacity="0.5"><line x1="127.35" y1="334.5" x2="127.35" y2="358.5"/><line x1="125.85" y1="334.5" x2="128.85" y2="334.5"/><line x1="125.85" y1="358.5" x2="128.85" y2="358.5"/></g>
<g stroke="#B03030" stroke-width="1" stroke-opacity="0.55"><line x1="127.35" y1="336.1" x2="127.35" y2="358.5"/><line x1="125.85" y1="336.1" x2="128.85" y2="336.1"/><line x1="125.85" y1="358.5" x2="128.85" y2="358.5"/></g>
<g stroke="#FFC000" stroke-width="1" stroke-opacity="0.85"><line x1="186" y1="318.25" x2="186" y2="356.5"/><line x1="184.5" y1="318.25" x2="187.5" y2="318.25"/><line x1="184.5" y1="356.5" x2="187.5" y2="356.5"/></g>
<g stroke="#FFC000" stroke-width="1" stroke-opacity="0.85"><line x1="196.75" y1="304.5" x2="196.75" y2="354.25"/><line x1="195.25" y1="304.5" x2="198.25" y2="304.5"/><line x1="195.25" y1="354.25" x2="198.25" y2="354.25"/></g>
<g stroke="#5A9CC0" stroke-width="1" stroke-opacity="0.8"><line x1="218.25" y1="315" x2="218.25" y2="352"/><line x1="216.75" y1="315" x2="219.75" y2="315"/><line x1="216.75" y1="352" x2="219.75" y2="352"/></g>
<g stroke="#7A9CB8" stroke-width="1" stroke-opacity="0.8"><line x1="234.25" y1="302.25" x2="234.25" y2="348.5"/><line x1="232.75" y1="302.25" x2="235.75" y2="302.25"/><line x1="232.75" y1="348.5" x2="235.75" y2="348.5"/></g>
<g stroke="#C04848" stroke-width="1" stroke-opacity="0.8"><line x1="261" y1="291" x2="261" y2="342.25"/><line x1="259.5" y1="291" x2="262.5" y2="291"/><line x1="259.5" y1="342.25" x2="262.5" y2="342.25"/></g>
<g stroke="#D05858" stroke-width="1" stroke-opacity="0.8"><line x1="277.25" y1="282" x2="277.25" y2="338.25"/><line x1="275.75" y1="282" x2="278.75" y2="282"/><line x1="275.75" y1="338.25" x2="278.75" y2="338.25"/></g>
<polyline points="52.1,342 62.85,343.75 73.6,345 84.35,345 95.1,345.5 105.85,345.75 116.6,346 127.35,346 186,334.5" fill="none" stroke="#FFC000" stroke-width="1.75" stroke-linejoin="round" />
<line x1="186" y1="334.5" x2="196.75" y2="329.25" stroke="#FFC000" stroke-width="1.3" stroke-dasharray="1.3,1.3"/>
<polyline points="52.1,346.25 62.85,346.25 73.6,346 84.35,346 95.1,346 105.85,346.25 116.6,346.25 127.35,346 218.25,333.75" fill="none" stroke="#2E8EB5" stroke-width="1.75" stroke-linejoin="round" />
<line x1="218.25" y1="333.75" x2="234.25" y2="325.5" stroke="#2E8EB5" stroke-width="1.3" stroke-dasharray="1.3,1.3"/>
<polyline points="52.1,348 62.85,348 73.6,347.5 84.35,347 95.1,346.5 105.85,347.5 116.6,347.5 127.35,347 261,317" fill="none" stroke="#C00000" stroke-width="1.75" stroke-linejoin="round" />
<line x1="261" y1="317" x2="277.25" y2="311" stroke="#C00000" stroke-width="1.3" stroke-dasharray="1.3,1.3"/>
<polygon points="52.1,340.24 53.86,342 52.1,343.76 50.34,342" fill="#fff" stroke="#FFC000" stroke-width="0.9"/>
<circle cx="52.1" cy="346.25" r="1.65" fill="#fff" stroke="#2E8EB5" stroke-width="0.9"/>
<polygon points="52.1,345.9 54.09,349.37 50.11,349.37" fill="#fff" stroke="#C00000" stroke-width="0.9"/>
<polygon points="62.85,341.99 64.61,343.75 62.85,345.51 61.09,343.75" fill="#fff" stroke="#FFC000" stroke-width="0.9"/>
<circle cx="62.85" cy="346.25" r="1.65" fill="#fff" stroke="#2E8EB5" stroke-width="0.9"/>
<polygon points="62.85,345.9 64.84,349.37 60.86,349.37" fill="#fff" stroke="#C00000" stroke-width="0.9"/>
<polygon points="73.6,343.24 75.36,345 73.6,346.76 71.84,345" fill="#fff" stroke="#FFC000" stroke-width="0.9"/>
<circle cx="73.6" cy="346" r="1.65" fill="#fff" stroke="#2E8EB5" stroke-width="0.9"/>
<polygon points="73.6,345.4 75.59,348.87 71.6,348.87" fill="#fff" stroke="#C00000" stroke-width="0.9"/>
<polygon points="84.35,343.24 86.11,345 84.35,346.76 82.59,345" fill="#fff" stroke="#FFC000" stroke-width="0.9"/>
<circle cx="84.35" cy="346" r="1.65" fill="#fff" stroke="#2E8EB5" stroke-width="0.9"/>
<polygon points="84.35,344.9 86.34,348.37 82.35,348.37" fill="#fff" stroke="#C00000" stroke-width="0.9"/>
<polygon points="95.1,343.74 96.86,345.5 95.1,347.26 93.34,345.5" fill="#fff" stroke="#FFC000" stroke-width="0.9"/>
<circle cx="95.1" cy="346" r="1.65" fill="#fff" stroke="#2E8EB5" stroke-width="0.9"/>
<polygon points="95.1,344.4 97.09,347.87 93.1,347.87" fill="#fff" stroke="#C00000" stroke-width="0.9"/>
<polygon points="105.85,343.99 107.61,345.75 105.85,347.51 104.09,345.75" fill="#fff" stroke="#FFC000" stroke-width="0.9"/>
<circle cx="105.85" cy="346.25" r="1.65" fill="#fff" stroke="#2E8EB5" stroke-width="0.9"/>
<polygon points="105.85,345.4 107.84,348.87 103.85,348.87" fill="#fff" stroke="#C00000" stroke-width="0.9"/>
<polygon points="116.6,344.24 118.36,346 116.6,347.76 114.84,346" fill="#fff" stroke="#FFC000" stroke-width="0.9"/>
<circle cx="116.6" cy="346.25" r="1.65" fill="#fff" stroke="#2E8EB5" stroke-width="0.9"/>
<polygon points="116.6,345.4 118.59,348.87 114.6,348.87" fill="#fff" stroke="#C00000" stroke-width="0.9"/>
<polygon points="127.35,344.24 129.11,346 127.35,347.76 125.59,346" fill="#fff" stroke="#FFC000" stroke-width="0.9"/>
<circle cx="127.35" cy="346" r="1.65" fill="#fff" stroke="#2E8EB5" stroke-width="0.9"/>
<polygon points="127.35,344.9 129.34,348.37 125.35,348.37" fill="#fff" stroke="#C00000" stroke-width="0.9"/>
<polygon points="186,332.74 187.76,334.5 186,336.26 184.24,334.5" fill="#fff" stroke="#FFC000" stroke-width="0.9"/>
<polygon points="196.75,327.49 198.51,329.25 196.75,331.01 194.99,329.25" fill="#fff" stroke="#FFC000" stroke-width="0.9"/>
<circle cx="218.25" cy="333.75" r="1.65" fill="#fff" stroke="#2E8EB5" stroke-width="0.9"/>
<circle cx="234.25" cy="325.5" r="1.65" fill="#fff" stroke="#2E8EB5" stroke-width="0.9"/>
<polygon points="261,314.9 263,318.37 259,318.37" fill="#fff" stroke="#C00000" stroke-width="0.9"/>
<polygon points="277.25,308.9 279.25,312.37 275.25,312.37" fill="#fff" stroke="#D05050" stroke-width="0.9"/>
<path d="M185.65,308.25 L184.85,314.25 M187.25,308.25 L186.45,314.25" stroke="#3a3a3a" stroke-width="0.6" fill="none"/>
<path d="M184.1,310.3 L187.9,310.3 M184,312.3 L187.8,312.3" stroke="#2a2a2a" stroke-width="0.85" fill="none"/>
<path d="M196.4,295 L195.6,301 M198,295 L197.2,301" stroke="#3a3a3a" stroke-width="0.6" fill="none"/>
<path d="M194.85,297.05 L198.65,297.05 M194.75,299.05 L198.55,299.05" stroke="#2a2a2a" stroke-width="0.85" fill="none"/>
<path d="M218.25,305.25 L218.25,308.75 M216.73,306.12 L219.77,307.88 M219.77,306.12 L216.73,307.88" stroke="#2a2a2a" stroke-width="1.05" fill="none"/>
<path d="M234.25,292.5 L234.25,296 M232.73,293.38 L235.77,295.12 M235.77,293.38 L232.73,295.12" stroke="#2a2a2a" stroke-width="1.05" fill="none"/>
<text x="348.8" y="258.6" font-size="15" text-anchor="start" fill="#000" font-weight="bold" >d</text>
<line x1="387.5" y1="264.75" x2="387.5" y2="380" stroke="#262626" stroke-width="1.15" />
<line x1="385.3" y1="264.4" x2="387.5" y2="264.4" stroke="#222" stroke-width="1" />
<text x="381" y="266.85" font-size="6.8" text-anchor="end" fill="#3a3a3a" font-weight="normal" >140%</text>
<line x1="385.3" y1="277.2" x2="387.5" y2="277.2" stroke="#222" stroke-width="1" />
<text x="381" y="279.65" font-size="6.8" text-anchor="end" fill="#3a3a3a" font-weight="normal" >120%</text>
<line x1="385.3" y1="290" x2="387.5" y2="290" stroke="#222" stroke-width="1" />
<text x="381" y="292.45" font-size="6.8" text-anchor="end" fill="#3a3a3a" font-weight="normal" >100%</text>
<line x1="385.3" y1="302.8" x2="387.5" y2="302.8" stroke="#222" stroke-width="1" />
<text x="381" y="305.25" font-size="6.8" text-anchor="end" fill="#3a3a3a" font-weight="normal" >80%</text>
<line x1="385.3" y1="315.6" x2="387.5" y2="315.6" stroke="#222" stroke-width="1" />
<text x="381" y="318.05" font-size="6.8" text-anchor="end" fill="#3a3a3a" font-weight="normal" >60%</text>
<line x1="385.3" y1="328.4" x2="387.5" y2="328.4" stroke="#222" stroke-width="1" />
<text x="381" y="330.85" font-size="6.8" text-anchor="end" fill="#3a3a3a" font-weight="normal" >40%</text>
<line x1="385.3" y1="341.2" x2="387.5" y2="341.2" stroke="#222" stroke-width="1" />
<text x="381" y="343.65" font-size="6.8" text-anchor="end" fill="#3a3a3a" font-weight="normal" >20%</text>
<line x1="385.3" y1="354" x2="387.5" y2="354" stroke="#222" stroke-width="1" />
<text x="381" y="356.45" font-size="6.8" text-anchor="end" fill="#3a3a3a" font-weight="normal" >0%</text>
<line x1="385.3" y1="366.8" x2="387.5" y2="366.8" stroke="#222" stroke-width="1" />
<text x="381" y="369.25" font-size="6.8" text-anchor="end" fill="#3a3a3a" font-weight="normal" >-20%</text>
<line x1="385.3" y1="379.6" x2="387.5" y2="379.6" stroke="#222" stroke-width="1" />
<text x="381" y="382.05" font-size="6.8" text-anchor="end" fill="#3a3a3a" font-weight="normal" >-40%</text>
<text transform="translate(355.3,327.4) rotate(-90)" x="0" y="0" font-size="7.8" text-anchor="middle" fill="#3a3a3a" textLength="40" lengthAdjust="spacingAndGlyphs">c[HHb] (Δ%)</text>
<text x="408.5" y="395.3" font-size="7.0" text-anchor="middle" fill="#3a3a3a" font-weight="normal" >0</text>
<text x="429.5" y="395.3" font-size="7.0" text-anchor="middle" fill="#3a3a3a" font-weight="normal" >10</text>
<text x="450.4" y="395.3" font-size="7.0" text-anchor="middle" fill="#3a3a3a" font-weight="normal" >20</text>
<text x="471.2" y="395.3" font-size="7.0" text-anchor="middle" fill="#3a3a3a" font-weight="normal" >30</text>
<text x="492.3" y="395.3" font-size="7.0" text-anchor="middle" fill="#3a3a3a" font-weight="normal" >40</text>
<text x="513.7" y="395.3" font-size="7.0" text-anchor="middle" fill="#3a3a3a" font-weight="normal" >50</text>
<text x="534.7" y="395.3" font-size="7.0" text-anchor="middle" fill="#3a3a3a" font-weight="normal" >60</text>
<text x="555.6" y="395.3" font-size="7.0" text-anchor="middle" fill="#3a3a3a" font-weight="normal" >70</text>
<text x="576.9" y="395.3" font-size="7.0" text-anchor="middle" fill="#3a3a3a" font-weight="normal" >80</text>
<text x="597.7" y="395.3" font-size="7.0" text-anchor="middle" fill="#3a3a3a" font-weight="normal" >90</text>
<text x="619" y="395.3" font-size="7.0" text-anchor="middle" fill="#3a3a3a" font-weight="normal" >100</text>
<text x="660.6" y="395.3" font-size="7.0" text-anchor="middle" fill="#3a3a3a" font-weight="normal" >MAX</text>
<line x1="387.5" y1="354.2" x2="682.5" y2="354.2" stroke="#000" stroke-width="1.2" stroke-dasharray="3,2"/>
<g stroke="#FFC000" stroke-width="1" stroke-opacity="0.42"><line x1="408.5" y1="353.9" x2="408.5" y2="361.3"/><line x1="407" y1="361.3" x2="410" y2="361.3"/></g>
<g stroke="#C00000" stroke-width="1" stroke-opacity="0.38"><line x1="408.5" y1="355" x2="408.5" y2="349.2"/><line x1="407" y1="349.2" x2="410" y2="349.2"/></g>
<g stroke="#2E8EB5" stroke-width="1" stroke-opacity="0.4"><line x1="408.5" y1="350" x2="408.5" y2="360"/><line x1="407" y1="350" x2="410" y2="350"/><line x1="407" y1="360" x2="410" y2="360"/></g>
<g stroke="#FFC000" stroke-width="1" stroke-opacity="0.42"><line x1="429.5" y1="353.6" x2="429.5" y2="360.1"/><line x1="428" y1="360.1" x2="431" y2="360.1"/></g>
<g stroke="#C00000" stroke-width="1" stroke-opacity="0.38"><line x1="429.5" y1="354.5" x2="429.5" y2="349.9"/><line x1="428" y1="349.9" x2="431" y2="349.9"/></g>
<g stroke="#2E8EB5" stroke-width="1" stroke-opacity="0.4"><line x1="429.5" y1="350.5" x2="429.5" y2="358.7"/><line x1="428" y1="350.5" x2="431" y2="350.5"/><line x1="428" y1="358.7" x2="431" y2="358.7"/></g>
<g stroke="#FFC000" stroke-width="1" stroke-opacity="0.42"><line x1="450.4" y1="354.3" x2="450.4" y2="360.6"/><line x1="448.9" y1="360.6" x2="451.9" y2="360.6"/></g>
<g stroke="#C00000" stroke-width="1" stroke-opacity="0.38"><line x1="450.4" y1="355.5" x2="450.4" y2="350.4"/><line x1="448.9" y1="350.4" x2="451.9" y2="350.4"/></g>
<g stroke="#2E8EB5" stroke-width="1" stroke-opacity="0.4"><line x1="450.4" y1="351" x2="450.4" y2="359.8"/><line x1="448.9" y1="351" x2="451.9" y2="351"/><line x1="448.9" y1="359.8" x2="451.9" y2="359.8"/></g>
<g stroke="#FFC000" stroke-width="1" stroke-opacity="0.42"><line x1="471.2" y1="354.8" x2="471.2" y2="361.2"/><line x1="469.7" y1="361.2" x2="472.7" y2="361.2"/></g>
<g stroke="#C00000" stroke-width="1" stroke-opacity="0.38"><line x1="471.2" y1="354.3" x2="471.2" y2="349.2"/><line x1="469.7" y1="349.2" x2="472.7" y2="349.2"/></g>
<g stroke="#2E8EB5" stroke-width="1" stroke-opacity="0.4"><line x1="471.2" y1="350.5" x2="471.2" y2="360.7"/><line x1="469.7" y1="350.5" x2="472.7" y2="350.5"/><line x1="469.7" y1="360.7" x2="472.7" y2="360.7"/></g>
<g stroke="#FFC000" stroke-width="1" stroke-opacity="0.42"><line x1="492.3" y1="355.2" x2="492.3" y2="361.3"/><line x1="490.8" y1="361.3" x2="493.8" y2="361.3"/></g>
<g stroke="#C00000" stroke-width="1" stroke-opacity="0.38"><line x1="492.3" y1="353.3" x2="492.3" y2="347.7"/><line x1="490.8" y1="347.7" x2="493.8" y2="347.7"/></g>
<g stroke="#2E8EB5" stroke-width="1" stroke-opacity="0.4"><line x1="492.3" y1="350" x2="492.3" y2="360"/><line x1="490.8" y1="350" x2="493.8" y2="350"/><line x1="490.8" y1="360" x2="493.8" y2="360"/></g>
<g stroke="#FFC000" stroke-width="1" stroke-opacity="0.42"><line x1="513.7" y1="354.8" x2="513.7" y2="362"/><line x1="512.2" y1="362" x2="515.2" y2="362"/></g>
<g stroke="#C00000" stroke-width="1" stroke-opacity="0.38"><line x1="513.7" y1="351.2" x2="513.7" y2="343.1"/><line x1="512.2" y1="343.1" x2="515.2" y2="343.1"/></g>
<g stroke="#2E8EB5" stroke-width="1" stroke-opacity="0.4"><line x1="513.7" y1="346.9" x2="513.7" y2="360.1"/><line x1="512.2" y1="346.9" x2="515.2" y2="346.9"/><line x1="512.2" y1="360.1" x2="515.2" y2="360.1"/></g>
<g stroke="#FFC000" stroke-width="1" stroke-opacity="0.42"><line x1="534.7" y1="353.5" x2="534.7" y2="363"/><line x1="533.2" y1="363" x2="536.2" y2="363"/></g>
<g stroke="#C00000" stroke-width="1" stroke-opacity="0.38"><line x1="534.7" y1="347.4" x2="534.7" y2="337"/><line x1="533.2" y1="337" x2="536.2" y2="337"/></g>
<g stroke="#2E8EB5" stroke-width="1" stroke-opacity="0.4"><line x1="534.7" y1="344" x2="534.7" y2="359.2"/><line x1="533.2" y1="344" x2="536.2" y2="344"/><line x1="533.2" y1="359.2" x2="536.2" y2="359.2"/></g>
<g stroke="#FFC000" stroke-width="1" stroke-opacity="0.42"><line x1="555.6" y1="352.5" x2="555.6" y2="363.5"/><line x1="554.1" y1="363.5" x2="557.1" y2="363.5"/></g>
<g stroke="#C00000" stroke-width="1" stroke-opacity="0.38"><line x1="555.6" y1="343.1" x2="555.6" y2="329.2"/><line x1="554.1" y1="329.2" x2="557.1" y2="329.2"/></g>
<g stroke="#2E8EB5" stroke-width="1" stroke-opacity="0.4"><line x1="555.6" y1="339.3" x2="555.6" y2="360.1"/><line x1="554.1" y1="339.3" x2="557.1" y2="339.3"/><line x1="554.1" y1="360.1" x2="557.1" y2="360.1"/></g>
<g stroke="#FFC000" stroke-width="1" stroke-opacity="0.42"><line x1="576.9" y1="350.3" x2="576.9" y2="363.5"/><line x1="575.4" y1="363.5" x2="578.4" y2="363.5"/></g>
<g stroke="#C00000" stroke-width="1" stroke-opacity="0.38"><line x1="576.9" y1="337.9" x2="576.9" y2="320.7"/><line x1="575.4" y1="320.7" x2="578.4" y2="320.7"/></g>
<g stroke="#2E8EB5" stroke-width="1" stroke-opacity="0.4"><line x1="576.9" y1="333.6" x2="576.9" y2="359.4"/><line x1="575.4" y1="333.6" x2="578.4" y2="333.6"/><line x1="575.4" y1="359.4" x2="578.4" y2="359.4"/></g>
<g stroke="#FFC000" stroke-width="1" stroke-opacity="0.42"><line x1="597.7" y1="347.8" x2="597.7" y2="364.9"/><line x1="596.2" y1="364.9" x2="599.2" y2="364.9"/></g>
<g stroke="#C00000" stroke-width="1" stroke-opacity="0.38"><line x1="597.7" y1="328.8" x2="597.7" y2="303.4"/><line x1="596.2" y1="303.4" x2="599.2" y2="303.4"/></g>
<g stroke="#2E8EB5" stroke-width="1" stroke-opacity="0.4"><line x1="597.7" y1="326" x2="597.7" y2="359"/><line x1="596.2" y1="326" x2="599.2" y2="326"/><line x1="596.2" y1="359" x2="599.2" y2="359"/></g>
<g stroke="#FFC000" stroke-width="1" stroke-opacity="0.42"><line x1="619" y1="343.6" x2="619" y2="366.4"/><line x1="617.5" y1="366.4" x2="620.5" y2="366.4"/></g>
<g stroke="#C00000" stroke-width="1" stroke-opacity="0.38"><line x1="619" y1="317.8" x2="619" y2="283.3"/><line x1="617.5" y1="283.3" x2="620.5" y2="283.3"/></g>
<g stroke="#2E8EB5" stroke-width="1" stroke-opacity="0.4"><line x1="619" y1="316.3" x2="619" y2="357.3"/><line x1="617.5" y1="316.3" x2="620.5" y2="316.3"/><line x1="617.5" y1="357.3" x2="620.5" y2="357.3"/></g>
<g stroke="#FFC000" stroke-width="1" stroke-opacity="0.42"><line x1="660.6" y1="333.9" x2="660.6" y2="367.6"/><line x1="659.1" y1="367.6" x2="662.1" y2="367.6"/></g>
<g stroke="#C00000" stroke-width="1" stroke-opacity="0.38"><line x1="660.6" y1="309.2" x2="660.6" y2="273.2"/><line x1="659.1" y1="273.2" x2="662.1" y2="273.2"/></g>
<g stroke="#2E8EB5" stroke-width="1" stroke-opacity="0.4"><line x1="660.6" y1="305.1" x2="660.6" y2="354.1"/><line x1="659.1" y1="305.1" x2="662.1" y2="305.1"/><line x1="659.1" y1="354.1" x2="662.1" y2="354.1"/></g>
<polyline points="408.5,355 429.5,354.5 450.4,355.5 471.2,354.3 492.3,353.3 513.7,351.2 534.7,347.4 555.6,343.1 576.9,337.9 597.7,328.8 619,317.8" fill="none" stroke="#C00000" stroke-width="1.75" stroke-linejoin="round" />
<polyline points="408.5,353.9 429.5,353.6 450.4,354.3 471.2,354.8 492.3,355.2 513.7,354.8 534.7,353.5 555.6,352.5 576.9,350.3 597.7,347.8 619,343.6" fill="none" stroke="#FFC000" stroke-width="1.75" stroke-linejoin="round" />
<polyline points="408.5,355 429.5,354.6 450.4,355.4 471.2,355.6 492.3,355 513.7,353.5 534.7,351.6 555.6,349.7 576.9,346.5 597.7,342.5 619,336.8" fill="none" stroke="#2E8EB5" stroke-width="1.75" stroke-linejoin="round" />
<polygon points="408.5,352.9 410.5,356.37 406.5,356.37" fill="#fff" stroke="#C00000" stroke-width="0.9"/>
<polygon points="408.5,352.14 410.26,353.9 408.5,355.66 406.74,353.9" fill="#fff" stroke="#FFC000" stroke-width="0.9"/>
<circle cx="408.5" cy="355" r="1.65" fill="#fff" stroke="#2E8EB5" stroke-width="0.9"/>
<polygon points="429.5,352.4 431.5,355.87 427.5,355.87" fill="#fff" stroke="#C00000" stroke-width="0.9"/>
<polygon points="429.5,351.84 431.26,353.6 429.5,355.36 427.74,353.6" fill="#fff" stroke="#FFC000" stroke-width="0.9"/>
<circle cx="429.5" cy="354.6" r="1.65" fill="#fff" stroke="#2E8EB5" stroke-width="0.9"/>
<polygon points="450.4,353.4 452.39,356.87 448.4,356.87" fill="#fff" stroke="#C00000" stroke-width="0.9"/>
<polygon points="450.4,352.54 452.16,354.3 450.4,356.06 448.64,354.3" fill="#fff" stroke="#FFC000" stroke-width="0.9"/>
<circle cx="450.4" cy="355.4" r="1.65" fill="#fff" stroke="#2E8EB5" stroke-width="0.9"/>
<polygon points="471.2,352.2 473.19,355.67 469.2,355.67" fill="#fff" stroke="#C00000" stroke-width="0.9"/>
<polygon points="471.2,353.04 472.96,354.8 471.2,356.56 469.44,354.8" fill="#fff" stroke="#FFC000" stroke-width="0.9"/>
<circle cx="471.2" cy="355.6" r="1.65" fill="#fff" stroke="#2E8EB5" stroke-width="0.9"/>
<polygon points="492.3,351.2 494.3,354.67 490.31,354.67" fill="#fff" stroke="#C00000" stroke-width="0.9"/>
<polygon points="492.3,353.44 494.06,355.2 492.3,356.96 490.54,355.2" fill="#fff" stroke="#FFC000" stroke-width="0.9"/>
<circle cx="492.3" cy="355" r="1.65" fill="#fff" stroke="#2E8EB5" stroke-width="0.9"/>
<polygon points="513.7,349.1 515.7,352.56 511.71,352.56" fill="#fff" stroke="#C00000" stroke-width="0.9"/>
<polygon points="513.7,353.04 515.46,354.8 513.7,356.56 511.94,354.8" fill="#fff" stroke="#FFC000" stroke-width="0.9"/>
<circle cx="513.7" cy="353.5" r="1.65" fill="#fff" stroke="#2E8EB5" stroke-width="0.9"/>
<polygon points="534.7,345.3 536.7,348.76 532.71,348.76" fill="#fff" stroke="#C00000" stroke-width="0.9"/>
<polygon points="534.7,351.74 536.46,353.5 534.7,355.26 532.94,353.5" fill="#fff" stroke="#FFC000" stroke-width="0.9"/>
<circle cx="534.7" cy="351.6" r="1.65" fill="#fff" stroke="#2E8EB5" stroke-width="0.9"/>
<polygon points="555.6,341 557.6,344.47 553.61,344.47" fill="#fff" stroke="#C00000" stroke-width="0.9"/>
<polygon points="555.6,350.74 557.36,352.5 555.6,354.26 553.84,352.5" fill="#fff" stroke="#FFC000" stroke-width="0.9"/>
<circle cx="555.6" cy="349.7" r="1.65" fill="#fff" stroke="#2E8EB5" stroke-width="0.9"/>
<polygon points="576.9,335.8 578.89,339.26 574.9,339.26" fill="#fff" stroke="#C00000" stroke-width="0.9"/>
<polygon points="576.9,348.54 578.66,350.3 576.9,352.06 575.14,350.3" fill="#fff" stroke="#FFC000" stroke-width="0.9"/>
<circle cx="576.9" cy="346.5" r="1.65" fill="#fff" stroke="#2E8EB5" stroke-width="0.9"/>
<polygon points="597.7,326.7 599.7,330.17 595.71,330.17" fill="#fff" stroke="#C00000" stroke-width="0.9"/>
<polygon points="597.7,346.04 599.46,347.8 597.7,349.56 595.94,347.8" fill="#fff" stroke="#FFC000" stroke-width="0.9"/>
<circle cx="597.7" cy="342.5" r="1.65" fill="#fff" stroke="#2E8EB5" stroke-width="0.9"/>
<polygon points="619,315.7 621,319.17 617,319.17" fill="#fff" stroke="#C00000" stroke-width="0.9"/>
<polygon points="619,341.84 620.76,343.6 619,345.36 617.24,343.6" fill="#fff" stroke="#FFC000" stroke-width="0.9"/>
<circle cx="619" cy="336.8" r="1.65" fill="#fff" stroke="#2E8EB5" stroke-width="0.9"/>
<polygon points="660.6,331.92 662.58,333.9 660.6,335.88 658.62,333.9" fill="#fff" stroke="#FFC000" stroke-width="0.9"/>
<circle cx="660.6" cy="329.6" r="1.65" fill="#fff" stroke="#2E8EB5" stroke-width="0.9"/>
<polygon points="660.6,307.1 662.6,310.56 658.61,310.56" fill="#fff" stroke="#C00000" stroke-width="0.9"/>
<path d="M555.25,318.6 L554.45,324.6 M556.85,318.6 L556.05,324.6" stroke="#3a3a3a" stroke-width="0.6" fill="none"/>
<path d="M553.7,320.65 L557.5,320.65 M553.6,322.65 L557.4,322.65" stroke="#2a2a2a" stroke-width="0.85" fill="none"/>
<path d="M576.55,308.7 L575.75,314.7 M578.15,308.7 L577.35,314.7" stroke="#3a3a3a" stroke-width="0.6" fill="none"/>
<path d="M575,310.75 L578.8,310.75 M574.9,312.75 L578.7,312.75" stroke="#2a2a2a" stroke-width="0.85" fill="none"/>
<path d="M597.35,292 L596.55,298 M598.95,292 L598.15,298" stroke="#3a3a3a" stroke-width="0.6" fill="none"/>
<path d="M595.8,294.05 L599.6,294.05 M595.7,296.05 L599.5,296.05" stroke="#2a2a2a" stroke-width="0.85" fill="none"/>
<path d="M618.65,267.1 L617.85,273.1 M620.25,267.1 L619.45,273.1" stroke="#3a3a3a" stroke-width="0.6" fill="none"/>
<path d="M617.1,269.15 L620.9,269.15 M617,271.15 L620.8,271.15" stroke="#2a2a2a" stroke-width="0.85" fill="none"/>
<path d="M619,277.15 L619,280.65 M617.48,278.02 L620.52,279.77 M620.52,278.02 L617.48,279.77" stroke="#2a2a2a" stroke-width="1.05" fill="none"/>
<path d="M660.25,256.3 L659.45,262.3 M661.85,256.3 L661.05,262.3" stroke="#3a3a3a" stroke-width="0.6" fill="none"/>
<path d="M658.7,258.35 L662.5,258.35 M658.6,260.35 L662.4,260.35" stroke="#2a2a2a" stroke-width="0.85" fill="none"/>
<path d="M660.6,267.15 L660.6,270.65 M659.08,268.02 L662.12,269.77 M662.12,268.02 L659.08,269.77" stroke="#2a2a2a" stroke-width="1.05" fill="none"/>
<rect x="84" y="422" width="102" height="151" fill="#FFF2CC"/>
<rect x="186" y="422" width="32.75" height="151" fill="#C2E4F0"/>
<rect x="218.75" y="422" width="42.25" height="151" fill="#FFC5C5"/>
<text x="4.5" y="441" font-size="15" text-anchor="start" fill="#000" font-weight="bold" >e</text>
<line x1="38.25" y1="446.25" x2="38.25" y2="565" stroke="#333" stroke-width="1.3" />
<line x1="36.05" y1="462.5" x2="38.25" y2="462.5" stroke="#222" stroke-width="1" />
<text x="32" y="465.02" font-size="7.0" text-anchor="end" fill="#3a3a3a" font-weight="normal" >100</text>
<line x1="36.05" y1="482.9" x2="38.25" y2="482.9" stroke="#222" stroke-width="1" />
<text x="32" y="485.42" font-size="7.0" text-anchor="end" fill="#3a3a3a" font-weight="normal" >90</text>
<line x1="36.05" y1="503.3" x2="38.25" y2="503.3" stroke="#222" stroke-width="1" />
<text x="32" y="505.82" font-size="7.0" text-anchor="end" fill="#3a3a3a" font-weight="normal" >80</text>
<line x1="36.05" y1="523.7" x2="38.25" y2="523.7" stroke="#222" stroke-width="1" />
<text x="32" y="526.22" font-size="7.0" text-anchor="end" fill="#3a3a3a" font-weight="normal" >70</text>
<line x1="36.05" y1="544.1" x2="38.25" y2="544.1" stroke="#222" stroke-width="1" />
<text x="32" y="546.62" font-size="7.0" text-anchor="end" fill="#3a3a3a" font-weight="normal" >60</text>
<line x1="36.05" y1="564.5" x2="38.25" y2="564.5" stroke="#222" stroke-width="1" />
<text x="32" y="567.02" font-size="7.0" text-anchor="end" fill="#3a3a3a" font-weight="normal" >50</text>
<text transform="translate(10.5,509.9) rotate(-90)" x="0" y="0" font-size="8" text-anchor="middle" fill="#3a3a3a" textLength="30" lengthAdjust="spacingAndGlyphs">SpO₂ (%)</text>
<text transform="translate(53.95,581.6) rotate(-45)" x="0" y="0" font-size="7.0" text-anchor="end" fill="#3a3a3a">-30</text>
<text transform="translate(64.45,581.6) rotate(-45)" x="0" y="0" font-size="7.0" text-anchor="end" fill="#3a3a3a">-20</text>
<text transform="translate(74.95,581.6) rotate(-45)" x="0" y="0" font-size="7.0" text-anchor="end" fill="#3a3a3a">-10</text>
<text transform="translate(85.95,581.6) rotate(-45)" x="0" y="0" font-size="7.0" text-anchor="end" fill="#3a3a3a">0</text>
<text transform="translate(96.7,581.6) rotate(-45)" x="0" y="0" font-size="7.0" text-anchor="end" fill="#3a3a3a">10</text>
<text transform="translate(107.45,581.6) rotate(-45)" x="0" y="0" font-size="7.0" text-anchor="end" fill="#3a3a3a">20</text>
<text transform="translate(117.95,581.6) rotate(-45)" x="0" y="0" font-size="7.0" text-anchor="end" fill="#3a3a3a">30</text>
<text transform="translate(128.95,581.6) rotate(-45)" x="0" y="0" font-size="7.0" text-anchor="end" fill="#3a3a3a">40</text>
<text transform="translate(139.7,581.6) rotate(-45)" x="0" y="0" font-size="7.0" text-anchor="end" fill="#3a3a3a">51</text>
<text transform="translate(155.2,581.6) rotate(-45)" x="0" y="0" font-size="7.0" text-anchor="end" fill="#3a3a3a">67</text>
<text transform="translate(171.2,581.6) rotate(-45)" x="0" y="0" font-size="7.0" text-anchor="end" fill="#3a3a3a">80</text>
<text transform="translate(188.2,581.6) rotate(-45)" x="0" y="0" font-size="7.0" text-anchor="end" fill="#3a3a3a">96</text>
<text transform="translate(208.95,581.6) rotate(-45)" x="0" y="0" font-size="7.0" text-anchor="end" fill="#3a3a3a">116</text>
<text transform="translate(220.2,581.6) rotate(-45)" x="0" y="0" font-size="7.0" text-anchor="end" fill="#3a3a3a">125</text>
<text transform="translate(246.95,581.6) rotate(-45)" x="0" y="0" font-size="7.0" text-anchor="end" fill="#3a3a3a">150</text>
<text transform="translate(262.95,581.6) rotate(-45)" x="0" y="0" font-size="7.0" text-anchor="end" fill="#3a3a3a">166</text>
<text transform="translate(295.2,581.6) rotate(-45)" x="0" y="0" font-size="7.0" text-anchor="end" fill="#3a3a3a">193</text>
<g stroke="#FFC000" stroke-width="1" stroke-opacity="0.85"><line x1="51.75" y1="458.75" x2="51.75" y2="481.25"/><line x1="50.25" y1="458.75" x2="53.25" y2="458.75"/><line x1="50.25" y1="481.25" x2="53.25" y2="481.25"/></g>
<g stroke="#4A90B0" stroke-width="1" stroke-opacity="0.5"><line x1="51.75" y1="461" x2="51.75" y2="466.5"/><line x1="50.25" y1="461" x2="53.25" y2="461"/><line x1="50.25" y1="466.5" x2="53.25" y2="466.5"/></g>
<g stroke="#B03030" stroke-width="1" stroke-opacity="0.55"><line x1="51.75" y1="461" x2="51.75" y2="466.5"/><line x1="50.25" y1="461" x2="53.25" y2="461"/><line x1="50.25" y1="466.5" x2="53.25" y2="466.5"/></g>
<g stroke="#FFC000" stroke-width="1" stroke-opacity="0.85"><line x1="62.25" y1="458" x2="62.25" y2="483"/><line x1="60.75" y1="458" x2="63.75" y2="458"/><line x1="60.75" y1="483" x2="63.75" y2="483"/></g>
<g stroke="#4A90B0" stroke-width="1" stroke-opacity="0.5"><line x1="62.25" y1="461" x2="62.25" y2="466.5"/><line x1="60.75" y1="461" x2="63.75" y2="461"/><line x1="60.75" y1="466.5" x2="63.75" y2="466.5"/></g>
<g stroke="#B03030" stroke-width="1" stroke-opacity="0.55"><line x1="62.25" y1="461" x2="62.25" y2="466.5"/><line x1="60.75" y1="461" x2="63.75" y2="461"/><line x1="60.75" y1="466.5" x2="63.75" y2="466.5"/></g>
<g stroke="#FFC000" stroke-width="1" stroke-opacity="0.85"><line x1="72.75" y1="457.5" x2="72.75" y2="485.5"/><line x1="71.25" y1="457.5" x2="74.25" y2="457.5"/><line x1="71.25" y1="485.5" x2="74.25" y2="485.5"/></g>
<g stroke="#4A90B0" stroke-width="1" stroke-opacity="0.5"><line x1="72.75" y1="461" x2="72.75" y2="466.5"/><line x1="71.25" y1="461" x2="74.25" y2="461"/><line x1="71.25" y1="466.5" x2="74.25" y2="466.5"/></g>
<g stroke="#B03030" stroke-width="1" stroke-opacity="0.55"><line x1="72.75" y1="461" x2="72.75" y2="466.5"/><line x1="71.25" y1="461" x2="74.25" y2="461"/><line x1="71.25" y1="466.5" x2="74.25" y2="466.5"/></g>
<g stroke="#FFC000" stroke-width="1" stroke-opacity="0.85"><line x1="83.75" y1="457" x2="83.75" y2="480"/><line x1="82.25" y1="457" x2="85.25" y2="457"/><line x1="82.25" y1="480" x2="85.25" y2="480"/></g>
<g stroke="#4A90B0" stroke-width="1" stroke-opacity="0.5"><line x1="83.75" y1="461" x2="83.75" y2="466.5"/><line x1="82.25" y1="461" x2="85.25" y2="461"/><line x1="82.25" y1="466.5" x2="85.25" y2="466.5"/></g>
<g stroke="#B03030" stroke-width="1" stroke-opacity="0.55"><line x1="83.75" y1="461" x2="83.75" y2="466.5"/><line x1="82.25" y1="461" x2="85.25" y2="461"/><line x1="82.25" y1="466.5" x2="85.25" y2="466.5"/></g>
<g stroke="#FFC000" stroke-width="1" stroke-opacity="0.85"><line x1="94.5" y1="458.75" x2="94.5" y2="472.5"/><line x1="93" y1="458.75" x2="96" y2="458.75"/><line x1="93" y1="472.5" x2="96" y2="472.5"/></g>
<g stroke="#4A90B0" stroke-width="1" stroke-opacity="0.5"><line x1="94.5" y1="461" x2="94.5" y2="466.5"/><line x1="93" y1="461" x2="96" y2="461"/><line x1="93" y1="466.5" x2="96" y2="466.5"/></g>
<g stroke="#B03030" stroke-width="1" stroke-opacity="0.55"><line x1="94.5" y1="461" x2="94.5" y2="466.5"/><line x1="93" y1="461" x2="96" y2="461"/><line x1="93" y1="466.5" x2="96" y2="466.5"/></g>
<g stroke="#FFC000" stroke-width="1" stroke-opacity="0.85"><line x1="105.25" y1="458" x2="105.25" y2="471.25"/><line x1="103.75" y1="458" x2="106.75" y2="458"/><line x1="103.75" y1="471.25" x2="106.75" y2="471.25"/></g>
<g stroke="#4A90B0" stroke-width="1" stroke-opacity="0.5"><line x1="105.25" y1="461" x2="105.25" y2="466.5"/><line x1="103.75" y1="461" x2="106.75" y2="461"/><line x1="103.75" y1="466.5" x2="106.75" y2="466.5"/></g>
<g stroke="#B03030" stroke-width="1" stroke-opacity="0.55"><line x1="105.25" y1="461" x2="105.25" y2="466.5"/><line x1="103.75" y1="461" x2="106.75" y2="461"/><line x1="103.75" y1="466.5" x2="106.75" y2="466.5"/></g>
<g stroke="#FFC000" stroke-width="1" stroke-opacity="0.85"><line x1="115.75" y1="462" x2="115.75" y2="466"/><line x1="114.25" y1="462" x2="117.25" y2="462"/><line x1="114.25" y1="466" x2="117.25" y2="466"/></g>
<g stroke="#4A90B0" stroke-width="1" stroke-opacity="0.5"><line x1="115.75" y1="461" x2="115.75" y2="466.5"/><line x1="114.25" y1="461" x2="117.25" y2="461"/><line x1="114.25" y1="466.5" x2="117.25" y2="466.5"/></g>
<g stroke="#B03030" stroke-width="1" stroke-opacity="0.55"><line x1="115.75" y1="461" x2="115.75" y2="466.5"/><line x1="114.25" y1="461" x2="117.25" y2="461"/><line x1="114.25" y1="466.5" x2="117.25" y2="466.5"/></g>
<g stroke="#FFC000" stroke-width="1" stroke-opacity="0.85"><line x1="126.75" y1="462" x2="126.75" y2="466"/><line x1="125.25" y1="462" x2="128.25" y2="462"/><line x1="125.25" y1="466" x2="128.25" y2="466"/></g>
<g stroke="#4A90B0" stroke-width="1" stroke-opacity="0.5"><line x1="126.75" y1="461" x2="126.75" y2="466.5"/><line x1="125.25" y1="461" x2="128.25" y2="461"/><line x1="125.25" y1="466.5" x2="128.25" y2="466.5"/></g>
<g stroke="#B03030" stroke-width="1" stroke-opacity="0.55"><line x1="126.75" y1="461" x2="126.75" y2="466.5"/><line x1="125.25" y1="461" x2="128.25" y2="461"/><line x1="125.25" y1="466.5" x2="128.25" y2="466.5"/></g>
<g stroke="#FFC000" stroke-width="1" stroke-opacity="0.85"><line x1="186" y1="461.25" x2="186" y2="476.25"/><line x1="184.5" y1="461.25" x2="187.5" y2="461.25"/><line x1="184.5" y1="476.25" x2="187.5" y2="476.25"/></g>
<g stroke="#FFC000" stroke-width="1" stroke-opacity="0.85"><line x1="206.75" y1="466.25" x2="206.75" y2="499.5"/><line x1="205.25" y1="466.25" x2="208.25" y2="466.25"/><line x1="205.25" y1="499.5" x2="208.25" y2="499.5"/></g>
<g stroke="#5A9CC0" stroke-width="1" stroke-opacity="0.8"><line x1="218" y1="457.5" x2="218" y2="491.25"/><line x1="216.5" y1="457.5" x2="219.5" y2="457.5"/><line x1="216.5" y1="491.25" x2="219.5" y2="491.25"/></g>
<g stroke="#7A9CB8" stroke-width="1" stroke-opacity="0.8"><line x1="244.75" y1="463.75" x2="244.75" y2="514.5"/><line x1="243.25" y1="463.75" x2="246.25" y2="463.75"/><line x1="243.25" y1="514.5" x2="246.25" y2="514.5"/></g>
<g stroke="#C04848" stroke-width="1" stroke-opacity="0.8"><line x1="260.75" y1="466.25" x2="260.75" y2="525.75"/><line x1="259.25" y1="466.25" x2="262.25" y2="466.25"/><line x1="259.25" y1="525.75" x2="262.25" y2="525.75"/></g>
<g stroke="#E08080" stroke-width="1" stroke-opacity="0.8"><line x1="293" y1="476" x2="293" y2="545"/><line x1="291.5" y1="476" x2="294.5" y2="476"/><line x1="291.5" y1="545" x2="294.5" y2="545"/></g>
<polyline points="51.75,469.5 62.25,470 72.75,471.25 83.75,468.25 94.5,465 105.25,464.25 115.75,463.75 126.75,463.75 186,468.75" fill="none" stroke="#FFC000" stroke-width="1.75" stroke-linejoin="round" />
<line x1="186" y1="468.75" x2="206.75" y2="482" stroke="#FFC000" stroke-width="1.3" stroke-dasharray="1.3,1.3"/>
<polyline points="51.75,463.5 62.25,463.5 72.75,463.5 83.75,463.5 94.5,463.5 105.25,463.5 115.75,463.5 126.75,463.5 218,474.25" fill="none" stroke="#2E8EB5" stroke-width="1.75" stroke-linejoin="round" />
<line x1="218" y1="474.25" x2="244.75" y2="489" stroke="#2E8EB5" stroke-width="1.3" stroke-dasharray="1.3,1.3"/>
<polyline points="51.75,464 62.25,464 72.75,464 83.75,464 94.5,463.5 105.25,463.5 115.75,463.5 126.75,463.5 260.75,496.75" fill="none" stroke="#C00000" stroke-width="1.75" stroke-linejoin="round" />
<line x1="260.75" y1="496.75" x2="293" y2="511.5" stroke="#C00000" stroke-width="1.3" stroke-dasharray="1.3,1.3"/>
<polygon points="51.75,467.74 53.51,469.5 51.75,471.26 49.99,469.5" fill="#fff" stroke="#FFC000" stroke-width="0.9"/>
<circle cx="51.75" cy="463.5" r="1.65" fill="#fff" stroke="#2E8EB5" stroke-width="0.9"/>
<polygon points="51.75,461.9 53.74,465.37 49.76,465.37" fill="#fff" stroke="#C00000" stroke-width="0.9"/>
<polygon points="62.25,468.24 64.01,470 62.25,471.76 60.49,470" fill="#fff" stroke="#FFC000" stroke-width="0.9"/>
<circle cx="62.25" cy="463.5" r="1.65" fill="#fff" stroke="#2E8EB5" stroke-width="0.9"/>
<polygon points="62.25,461.9 64.25,465.37 60.26,465.37" fill="#fff" stroke="#C00000" stroke-width="0.9"/>
<polygon points="72.75,469.49 74.51,471.25 72.75,473.01 70.99,471.25" fill="#fff" stroke="#FFC000" stroke-width="0.9"/>
<circle cx="72.75" cy="463.5" r="1.65" fill="#fff" stroke="#2E8EB5" stroke-width="0.9"/>
<polygon points="72.75,461.9 74.75,465.37 70.75,465.37" fill="#fff" stroke="#C00000" stroke-width="0.9"/>
<polygon points="83.75,466.49 85.51,468.25 83.75,470.01 81.99,468.25" fill="#fff" stroke="#FFC000" stroke-width="0.9"/>
<circle cx="83.75" cy="463.5" r="1.65" fill="#fff" stroke="#2E8EB5" stroke-width="0.9"/>
<polygon points="83.75,461.9 85.75,465.37 81.75,465.37" fill="#fff" stroke="#C00000" stroke-width="0.9"/>
<polygon points="94.5,463.24 96.26,465 94.5,466.76 92.74,465" fill="#fff" stroke="#FFC000" stroke-width="0.9"/>
<circle cx="94.5" cy="463.5" r="1.65" fill="#fff" stroke="#2E8EB5" stroke-width="0.9"/>
<polygon points="94.5,461.4 96.5,464.87 92.5,464.87" fill="#fff" stroke="#C00000" stroke-width="0.9"/>
<polygon points="105.25,462.49 107.01,464.25 105.25,466.01 103.49,464.25" fill="#fff" stroke="#FFC000" stroke-width="0.9"/>
<circle cx="105.25" cy="463.5" r="1.65" fill="#fff" stroke="#2E8EB5" stroke-width="0.9"/>
<polygon points="105.25,461.4 107.25,464.87 103.25,464.87" fill="#fff" stroke="#C00000" stroke-width="0.9"/>
<polygon points="115.75,461.99 117.51,463.75 115.75,465.51 113.99,463.75" fill="#fff" stroke="#FFC000" stroke-width="0.9"/>
<circle cx="115.75" cy="463.5" r="1.65" fill="#fff" stroke="#2E8EB5" stroke-width="0.9"/>
<polygon points="115.75,461.4 117.75,464.87 113.75,464.87" fill="#fff" stroke="#C00000" stroke-width="0.9"/>
<polygon points="126.75,461.99 128.51,463.75 126.75,465.51 124.99,463.75" fill="#fff" stroke="#FFC000" stroke-width="0.9"/>
<circle cx="126.75" cy="463.5" r="1.65" fill="#fff" stroke="#2E8EB5" stroke-width="0.9"/>
<polygon points="126.75,461.4 128.75,464.87 124.75,464.87" fill="#fff" stroke="#C00000" stroke-width="0.9"/>
<polygon points="186,466.99 187.76,468.75 186,470.51 184.24,468.75" fill="#fff" stroke="#FFC000" stroke-width="0.9"/>
<polygon points="206.75,480.24 208.51,482 206.75,483.76 204.99,482" fill="#fff" stroke="#FFC000" stroke-width="0.9"/>
<circle cx="218" cy="474.25" r="1.65" fill="#fff" stroke="#2E8EB5" stroke-width="0.9"/>
<circle cx="244.75" cy="489" r="1.65" fill="#fff" stroke="#2E8EB5" stroke-width="0.9"/>
<polygon points="260.75,494.65 262.75,498.12 258.75,498.12" fill="#fff" stroke="#C00000" stroke-width="0.9"/>
<polygon points="293,509.4 295,512.87 291,512.87" fill="#fff" stroke="#D86060" stroke-width="0.9"/>
<text transform="translate(51.75,441.76) scale(0.75,1)" font-size="9.4" text-anchor="middle" fill="#333">§</text>
<path d="M51.4,447.5 L50.6,453.5 M53,447.5 L52.2,453.5" stroke="#3a3a3a" stroke-width="0.6" fill="none"/>
<path d="M49.85,449.55 L53.65,449.55 M49.75,451.55 L53.55,451.55" stroke="#2a2a2a" stroke-width="0.85" fill="none"/>
<text transform="translate(62.25,441.76) scale(0.75,1)" font-size="9.4" text-anchor="middle" fill="#333">§</text>
<path d="M61.9,447.5 L61.1,453.5 M63.5,447.5 L62.7,453.5" stroke="#3a3a3a" stroke-width="0.6" fill="none"/>
<path d="M60.35,449.55 L64.15,449.55 M60.25,451.55 L64.05,451.55" stroke="#2a2a2a" stroke-width="0.85" fill="none"/>
<text transform="translate(72.75,441.76) scale(0.75,1)" font-size="9.4" text-anchor="middle" fill="#333">§</text>
<path d="M72.4,447.5 L71.6,453.5 M74,447.5 L73.2,453.5" stroke="#3a3a3a" stroke-width="0.6" fill="none"/>
<path d="M70.85,449.55 L74.65,449.55 M70.75,451.55 L74.55,451.55" stroke="#2a2a2a" stroke-width="0.85" fill="none"/>
<text transform="translate(83.75,440.51) scale(0.75,1)" font-size="9.4" text-anchor="middle" fill="#333">§</text>
<path d="M83.4,446.25 L82.6,452.25 M85,446.25 L84.2,452.25" stroke="#3a3a3a" stroke-width="0.6" fill="none"/>
<path d="M81.85,448.3 L85.65,448.3 M81.75,450.3 L85.55,450.3" stroke="#2a2a2a" stroke-width="0.85" fill="none"/>
<text transform="translate(94.5,443.01) scale(0.75,1)" font-size="9.4" text-anchor="middle" fill="#333">§</text>
<path d="M94.15,448.25 L93.35,454.25 M95.75,448.25 L94.95,454.25" stroke="#3a3a3a" stroke-width="0.6" fill="none"/>
<path d="M92.6,450.3 L96.4,450.3 M92.5,452.3 L96.3,452.3" stroke="#2a2a2a" stroke-width="0.85" fill="none"/>
<path d="M185.65,449 L184.85,455 M187.25,449 L186.45,455" stroke="#3a3a3a" stroke-width="0.6" fill="none"/>
<path d="M184.1,451.05 L187.9,451.05 M184,453.05 L187.8,453.05" stroke="#2a2a2a" stroke-width="0.85" fill="none"/>
<path d="M206.4,456.25 L205.6,462.25 M208,456.25 L207.2,462.25" stroke="#3a3a3a" stroke-width="0.6" fill="none"/>
<path d="M204.85,458.3 L208.65,458.3 M204.75,460.3 L208.55,460.3" stroke="#2a2a2a" stroke-width="0.85" fill="none"/>
<path d="M218,448.25 L218,451.75 M216.48,449.12 L219.52,450.88 M219.52,449.12 L216.48,450.88" stroke="#2a2a2a" stroke-width="1.05" fill="none"/>
<path d="M244.75,455.75 L244.75,459.25 M243.23,456.62 L246.27,458.38 M246.27,456.62 L243.23,458.38" stroke="#2a2a2a" stroke-width="1.05" fill="none"/>
<text x="155.5" y="604.5" font-size="9.3" text-anchor="middle" fill="#000" font-weight="normal" textLength="73" lengthAdjust="spacingAndGlyphs" stroke="#000" stroke-width="0.22">Apnea duration (s)</text>
<text x="349.5" y="440" font-size="15" text-anchor="start" fill="#000" font-weight="bold" >f</text>
<line x1="387.5" y1="456.25" x2="387.5" y2="564.5" stroke="#333" stroke-width="1.3" />
<line x1="385.3" y1="456.47" x2="387.5" y2="456.47" stroke="#222" stroke-width="1" />
<text x="380.5" y="458.85" font-size="6.6" text-anchor="end" fill="#3a3a3a" font-weight="normal" >5%</text>
<line x1="385.3" y1="467.25" x2="387.5" y2="467.25" stroke="#222" stroke-width="1" />
<text x="380.5" y="469.63" font-size="6.6" text-anchor="end" fill="#3a3a3a" font-weight="normal" >0%</text>
<line x1="385.3" y1="478.03" x2="387.5" y2="478.03" stroke="#222" stroke-width="1" />
<text x="380.5" y="480.41" font-size="6.6" text-anchor="end" fill="#3a3a3a" font-weight="normal" >-5%</text>
<line x1="385.3" y1="488.81" x2="387.5" y2="488.81" stroke="#222" stroke-width="1" />
<text x="380.5" y="491.19" font-size="6.6" text-anchor="end" fill="#3a3a3a" font-weight="normal" >-10%</text>
<line x1="385.3" y1="499.59" x2="387.5" y2="499.59" stroke="#222" stroke-width="1" />
<text x="380.5" y="501.97" font-size="6.6" text-anchor="end" fill="#3a3a3a" font-weight="normal" >-15%</text>
<line x1="385.3" y1="510.37" x2="387.5" y2="510.37" stroke="#222" stroke-width="1" />
<text x="380.5" y="512.75" font-size="6.6" text-anchor="end" fill="#3a3a3a" font-weight="normal" >-20%</text>
<line x1="385.3" y1="521.15" x2="387.5" y2="521.15" stroke="#222" stroke-width="1" />
<text x="380.5" y="523.53" font-size="6.6" text-anchor="end" fill="#3a3a3a" font-weight="normal" >-25%</text>
<line x1="385.3" y1="531.93" x2="387.5" y2="531.93" stroke="#222" stroke-width="1" />
<text x="380.5" y="534.31" font-size="6.6" text-anchor="end" fill="#3a3a3a" font-weight="normal" >-30%</text>
<line x1="385.3" y1="542.71" x2="387.5" y2="542.71" stroke="#222" stroke-width="1" />
<text x="380.5" y="545.09" font-size="6.6" text-anchor="end" fill="#3a3a3a" font-weight="normal" >-35%</text>
<line x1="385.3" y1="553.49" x2="387.5" y2="553.49" stroke="#222" stroke-width="1" />
<text x="380.5" y="555.87" font-size="6.6" text-anchor="end" fill="#3a3a3a" font-weight="normal" >-40%</text>
<line x1="385.3" y1="564.27" x2="387.5" y2="564.27" stroke="#222" stroke-width="1" />
<text x="380.5" y="566.65" font-size="6.6" text-anchor="end" fill="#3a3a3a" font-weight="normal" >-45%</text>
<text transform="translate(355.4,510) rotate(-90)" x="0" y="0" font-size="8" text-anchor="middle" fill="#3a3a3a" textLength="33.5" lengthAdjust="spacingAndGlyphs">SpO₂ (Δ%)</text>
<text x="408.3" y="585.2" font-size="7.0" text-anchor="middle" fill="#3a3a3a" font-weight="normal" >0</text>
<text x="429.3" y="585.2" font-size="7.0" text-anchor="middle" fill="#3a3a3a" font-weight="normal" >10</text>
<text x="450.3" y="585.2" font-size="7.0" text-anchor="middle" fill="#3a3a3a" font-weight="normal" >20</text>
<text x="471.3" y="585.2" font-size="7.0" text-anchor="middle" fill="#3a3a3a" font-weight="normal" >30</text>
<text x="492.4" y="585.2" font-size="7.0" text-anchor="middle" fill="#3a3a3a" font-weight="normal" >40</text>
<text x="513.6" y="585.2" font-size="7.0" text-anchor="middle" fill="#3a3a3a" font-weight="normal" >50</text>
<text x="534.5" y="585.2" font-size="7.0" text-anchor="middle" fill="#3a3a3a" font-weight="normal" >60</text>
<text x="555.5" y="585.2" font-size="7.0" text-anchor="middle" fill="#3a3a3a" font-weight="normal" >70</text>
<text x="576.5" y="585.2" font-size="7.0" text-anchor="middle" fill="#3a3a3a" font-weight="normal" >80</text>
<text x="597.4" y="585.2" font-size="7.0" text-anchor="middle" fill="#3a3a3a" font-weight="normal" >90</text>
<text x="618.4" y="585.2" font-size="7.0" text-anchor="middle" fill="#3a3a3a" font-weight="normal" >100</text>
<text x="659.9" y="585.2" font-size="7.0" text-anchor="middle" fill="#3a3a3a" font-weight="normal" >MIN</text>
<line x1="387.5" y1="467.2" x2="681" y2="467.2" stroke="#000" stroke-width="1.2" stroke-dasharray="3,2"/>
<g stroke="#FFC000" stroke-width="1" stroke-opacity="0.42"><line x1="408" y1="472.3" x2="408" y2="459.5"/><line x1="406.5" y1="459.5" x2="409.5" y2="459.5"/></g>
<g stroke="#C00000" stroke-width="1" stroke-opacity="0.38"><line x1="408" y1="467.1" x2="408" y2="469.5"/><line x1="406.5" y1="469.5" x2="409.5" y2="469.5"/></g>
<g stroke="#2E8EB5" stroke-width="1" stroke-opacity="0.4"><line x1="408" y1="463.5" x2="408" y2="468.5"/><line x1="406.5" y1="463.5" x2="409.5" y2="463.5"/><line x1="406.5" y1="468.5" x2="409.5" y2="468.5"/></g>
<g stroke="#FFC000" stroke-width="1" stroke-opacity="0.42"><line x1="429" y1="470" x2="429" y2="460.2"/><line x1="427.5" y1="460.2" x2="430.5" y2="460.2"/></g>
<g stroke="#C00000" stroke-width="1" stroke-opacity="0.38"><line x1="429" y1="467.1" x2="429" y2="469.5"/><line x1="427.5" y1="469.5" x2="430.5" y2="469.5"/></g>
<g stroke="#2E8EB5" stroke-width="1" stroke-opacity="0.4"><line x1="429" y1="463.5" x2="429" y2="468.5"/><line x1="427.5" y1="463.5" x2="430.5" y2="463.5"/><line x1="427.5" y1="468.5" x2="430.5" y2="468.5"/></g>
<g stroke="#FFC000" stroke-width="1" stroke-opacity="0.42"><line x1="450" y1="469" x2="450" y2="461.6"/><line x1="448.5" y1="461.6" x2="451.5" y2="461.6"/></g>
<g stroke="#C00000" stroke-width="1" stroke-opacity="0.38"><line x1="450" y1="467" x2="450" y2="469.5"/><line x1="448.5" y1="469.5" x2="451.5" y2="469.5"/></g>
<g stroke="#2E8EB5" stroke-width="1" stroke-opacity="0.4"><line x1="450" y1="463.5" x2="450" y2="468.5"/><line x1="448.5" y1="463.5" x2="451.5" y2="463.5"/><line x1="448.5" y1="468.5" x2="451.5" y2="468.5"/></g>
<g stroke="#FFC000" stroke-width="1" stroke-opacity="0.42"><line x1="471" y1="466.8" x2="471" y2="463"/><line x1="469.5" y1="463" x2="472.5" y2="463"/></g>
<g stroke="#C00000" stroke-width="1" stroke-opacity="0.38"><line x1="471" y1="467.5" x2="471" y2="469.5"/><line x1="469.5" y1="469.5" x2="472.5" y2="469.5"/></g>
<g stroke="#2E8EB5" stroke-width="1" stroke-opacity="0.4"><line x1="471" y1="463.9" x2="471" y2="466.7"/><line x1="469.5" y1="463.9" x2="472.5" y2="463.9"/><line x1="469.5" y1="466.7" x2="472.5" y2="466.7"/></g>
<g stroke="#FFC000" stroke-width="1" stroke-opacity="0.42"><line x1="492.1" y1="466.8" x2="492.1" y2="463"/><line x1="490.6" y1="463" x2="493.6" y2="463"/></g>
<g stroke="#C00000" stroke-width="1" stroke-opacity="0.38"><line x1="492.1" y1="468.2" x2="492.1" y2="469.7"/><line x1="490.6" y1="469.7" x2="493.6" y2="469.7"/></g>
<g stroke="#2E8EB5" stroke-width="1" stroke-opacity="0.4"><line x1="492.1" y1="464.2" x2="492.1" y2="466.4"/><line x1="490.6" y1="464.2" x2="493.6" y2="464.2"/><line x1="490.6" y1="466.4" x2="493.6" y2="466.4"/></g>
<g stroke="#FFC000" stroke-width="1" stroke-opacity="0.42"><line x1="513.3" y1="466.8" x2="513.3" y2="463"/><line x1="511.8" y1="463" x2="514.8" y2="463"/></g>
<g stroke="#C00000" stroke-width="1" stroke-opacity="0.38"><line x1="513.3" y1="468.7" x2="513.3" y2="474.1"/><line x1="511.8" y1="474.1" x2="514.8" y2="474.1"/></g>
<g stroke="#2E8EB5" stroke-width="1" stroke-opacity="0.4"><line x1="513.3" y1="464.2" x2="513.3" y2="466.4"/><line x1="511.8" y1="464.2" x2="514.8" y2="464.2"/><line x1="511.8" y1="466.4" x2="514.8" y2="466.4"/></g>
<g stroke="#FFC000" stroke-width="1" stroke-opacity="0.42"><line x1="534.2" y1="466.8" x2="534.2" y2="463.5"/><line x1="532.7" y1="463.5" x2="535.7" y2="463.5"/></g>
<g stroke="#C00000" stroke-width="1" stroke-opacity="0.38"><line x1="534.2" y1="470.4" x2="534.2" y2="479.6"/><line x1="532.7" y1="479.6" x2="535.7" y2="479.6"/></g>
<g stroke="#2E8EB5" stroke-width="1" stroke-opacity="0.4"><line x1="534.2" y1="463.4" x2="534.2" y2="468.2"/><line x1="532.7" y1="463.4" x2="535.7" y2="463.4"/><line x1="532.7" y1="468.2" x2="535.7" y2="468.2"/></g>
<g stroke="#FFC000" stroke-width="1" stroke-opacity="0.42"><line x1="555.2" y1="468.2" x2="555.2" y2="464"/><line x1="553.7" y1="464" x2="556.7" y2="464"/></g>
<g stroke="#C00000" stroke-width="1" stroke-opacity="0.38"><line x1="555.2" y1="474.1" x2="555.2" y2="487.5"/><line x1="553.7" y1="487.5" x2="556.7" y2="487.5"/></g>
<g stroke="#2E8EB5" stroke-width="1" stroke-opacity="0.4"><line x1="555.2" y1="462.4" x2="555.2" y2="473.2"/><line x1="553.7" y1="462.4" x2="556.7" y2="462.4"/><line x1="553.7" y1="473.2" x2="556.7" y2="473.2"/></g>
<g stroke="#FFC000" stroke-width="1" stroke-opacity="0.42"><line x1="576.2" y1="469.1" x2="576.2" y2="464.3"/><line x1="574.7" y1="464.3" x2="577.7" y2="464.3"/></g>
<g stroke="#C00000" stroke-width="1" stroke-opacity="0.38"><line x1="576.2" y1="479" x2="576.2" y2="496.1"/><line x1="574.7" y1="496.1" x2="577.7" y2="496.1"/></g>
<g stroke="#2E8EB5" stroke-width="1" stroke-opacity="0.4"><line x1="576.2" y1="461.5" x2="576.2" y2="478.1"/><line x1="574.7" y1="461.5" x2="577.7" y2="461.5"/><line x1="574.7" y1="478.1" x2="577.7" y2="478.1"/></g>
<g stroke="#FFC000" stroke-width="1" stroke-opacity="0.42"><line x1="597.1" y1="470.5" x2="597.1" y2="464.3"/><line x1="595.6" y1="464.3" x2="598.6" y2="464.3"/></g>
<g stroke="#C00000" stroke-width="1" stroke-opacity="0.38"><line x1="597.1" y1="487.9" x2="597.1" y2="510.7"/><line x1="595.6" y1="510.7" x2="598.6" y2="510.7"/></g>
<g stroke="#2E8EB5" stroke-width="1" stroke-opacity="0.4"><line x1="597.1" y1="461.5" x2="597.1" y2="483.9"/><line x1="595.6" y1="461.5" x2="598.6" y2="461.5"/><line x1="595.6" y1="483.9" x2="598.6" y2="483.9"/></g>
<g stroke="#FFC000" stroke-width="1" stroke-opacity="0.42"><line x1="618.1" y1="472.4" x2="618.1" y2="464.8"/><line x1="616.6" y1="464.8" x2="619.6" y2="464.8"/></g>
<g stroke="#C00000" stroke-width="1" stroke-opacity="0.38"><line x1="618.1" y1="496.6" x2="618.1" y2="527.3"/><line x1="616.6" y1="527.3" x2="619.6" y2="527.3"/></g>
<g stroke="#2E8EB5" stroke-width="1" stroke-opacity="0.4"><line x1="618.1" y1="460.5" x2="618.1" y2="494.3"/><line x1="616.6" y1="460.5" x2="619.6" y2="460.5"/><line x1="616.6" y1="494.3" x2="619.6" y2="494.3"/></g>
<g stroke="#FFC000" stroke-width="1" stroke-opacity="0.42"><line x1="659.9" y1="486.8" x2="659.9" y2="469.2"/><line x1="658.4" y1="469.2" x2="661.4" y2="469.2"/></g>
<g stroke="#C00000" stroke-width="1" stroke-opacity="0.38"><line x1="659.9" y1="516.5" x2="659.9" y2="553.7"/><line x1="658.4" y1="553.7" x2="661.4" y2="553.7"/></g>
<g stroke="#2E8EB5" stroke-width="1" stroke-opacity="0.4"><line x1="659.9" y1="466" x2="659.9" y2="519.7"/><line x1="658.4" y1="466" x2="661.4" y2="466"/><line x1="658.4" y1="519.7" x2="661.4" y2="519.7"/></g>
<polyline points="408,467.1 429,467.1 450,467 471,467.5 492.1,468.2 513.3,468.7 534.2,470.4 555.2,474.1 576.2,479 597.1,487.9 618.1,496.6" fill="none" stroke="#C00000" stroke-width="1.75" stroke-linejoin="round" />
<polyline points="408,472.3 429,470 450,469 471,466.8 492.1,466.8 513.3,466.8 534.2,466.8 555.2,468.2 576.2,469.1 597.1,470.5 618.1,472.4" fill="none" stroke="#FFC000" stroke-width="1.75" stroke-linejoin="round" />
<polyline points="408,466 429,466 450,466 471,465.3 492.1,465.3 513.3,465.3 534.2,465.8 555.2,467.8 576.2,469.8 597.1,472.7 618.1,477.4" fill="none" stroke="#2E8EB5" stroke-width="1.75" stroke-linejoin="round" />
<polygon points="408,465 410,468.47 406,468.47" fill="#fff" stroke="#C00000" stroke-width="0.9"/>
<polygon points="408,470.54 409.76,472.3 408,474.06 406.24,472.3" fill="#fff" stroke="#FFC000" stroke-width="0.9"/>
<circle cx="408" cy="466" r="1.65" fill="#fff" stroke="#2E8EB5" stroke-width="0.9"/>
<polygon points="429,465 431,468.47 427,468.47" fill="#fff" stroke="#C00000" stroke-width="0.9"/>
<polygon points="429,468.24 430.76,470 429,471.76 427.24,470" fill="#fff" stroke="#FFC000" stroke-width="0.9"/>
<circle cx="429" cy="466" r="1.65" fill="#fff" stroke="#2E8EB5" stroke-width="0.9"/>
<polygon points="450,464.9 452,468.37 448,468.37" fill="#fff" stroke="#C00000" stroke-width="0.9"/>
<polygon points="450,467.24 451.76,469 450,470.76 448.24,469" fill="#fff" stroke="#FFC000" stroke-width="0.9"/>
<circle cx="450" cy="466" r="1.65" fill="#fff" stroke="#2E8EB5" stroke-width="0.9"/>
<polygon points="471,465.4 473,468.87 469,468.87" fill="#fff" stroke="#C00000" stroke-width="0.9"/>
<polygon points="471,465.04 472.76,466.8 471,468.56 469.24,466.8" fill="#fff" stroke="#FFC000" stroke-width="0.9"/>
<circle cx="471" cy="465.3" r="1.65" fill="#fff" stroke="#2E8EB5" stroke-width="0.9"/>
<polygon points="492.1,466.1 494.1,469.56 490.11,469.56" fill="#fff" stroke="#C00000" stroke-width="0.9"/>
<polygon points="492.1,465.04 493.86,466.8 492.1,468.56 490.34,466.8" fill="#fff" stroke="#FFC000" stroke-width="0.9"/>
<circle cx="492.1" cy="465.3" r="1.65" fill="#fff" stroke="#2E8EB5" stroke-width="0.9"/>
<polygon points="513.3,466.6 515.29,470.06 511.3,470.06" fill="#fff" stroke="#C00000" stroke-width="0.9"/>
<polygon points="513.3,465.04 515.06,466.8 513.3,468.56 511.54,466.8" fill="#fff" stroke="#FFC000" stroke-width="0.9"/>
<circle cx="513.3" cy="465.3" r="1.65" fill="#fff" stroke="#2E8EB5" stroke-width="0.9"/>
<polygon points="534.2,468.3 536.2,471.76 532.21,471.76" fill="#fff" stroke="#C00000" stroke-width="0.9"/>
<polygon points="534.2,465.04 535.96,466.8 534.2,468.56 532.44,466.8" fill="#fff" stroke="#FFC000" stroke-width="0.9"/>
<circle cx="534.2" cy="465.8" r="1.65" fill="#fff" stroke="#2E8EB5" stroke-width="0.9"/>
<polygon points="555.2,472 557.2,475.47 553.21,475.47" fill="#fff" stroke="#C00000" stroke-width="0.9"/>
<polygon points="555.2,466.44 556.96,468.2 555.2,469.96 553.44,468.2" fill="#fff" stroke="#FFC000" stroke-width="0.9"/>
<circle cx="555.2" cy="467.8" r="1.65" fill="#fff" stroke="#2E8EB5" stroke-width="0.9"/>
<polygon points="576.2,476.9 578.2,480.37 574.21,480.37" fill="#fff" stroke="#C00000" stroke-width="0.9"/>
<polygon points="576.2,467.34 577.96,469.1 576.2,470.86 574.44,469.1" fill="#fff" stroke="#FFC000" stroke-width="0.9"/>
<circle cx="576.2" cy="469.8" r="1.65" fill="#fff" stroke="#2E8EB5" stroke-width="0.9"/>
<polygon points="597.1,485.8 599.1,489.26 595.11,489.26" fill="#fff" stroke="#C00000" stroke-width="0.9"/>
<polygon points="597.1,468.74 598.86,470.5 597.1,472.26 595.34,470.5" fill="#fff" stroke="#FFC000" stroke-width="0.9"/>
<circle cx="597.1" cy="472.7" r="1.65" fill="#fff" stroke="#2E8EB5" stroke-width="0.9"/>
<polygon points="618.1,494.5 620.1,497.97 616.11,497.97" fill="#fff" stroke="#C00000" stroke-width="0.9"/>
<polygon points="618.1,470.64 619.86,472.4 618.1,474.16 616.34,472.4" fill="#fff" stroke="#FFC000" stroke-width="0.9"/>
<circle cx="618.1" cy="477.4" r="1.65" fill="#fff" stroke="#2E8EB5" stroke-width="0.9"/>
<polygon points="659.9,484.82 661.88,486.8 659.9,488.78 657.92,486.8" fill="#fff" stroke="#FFC000" stroke-width="0.9"/>
<circle cx="659.9" cy="492.5" r="1.65" fill="#fff" stroke="#2E8EB5" stroke-width="0.9"/>
<polygon points="659.9,514.4 661.89,517.87 657.9,517.87" fill="#fff" stroke="#C00000" stroke-width="0.9"/>
<text transform="translate(407.4,484.07) scale(0.75,1)" font-size="9.6" text-anchor="middle" fill="#333">§</text>
<path d="M575.85,500 L575.05,506 M577.45,500 L576.65,506" stroke="#3a3a3a" stroke-width="0.6" fill="none"/>
<path d="M574.3,502.05 L578.1,502.05 M574.2,504.05 L578,504.05" stroke="#2a2a2a" stroke-width="0.85" fill="none"/>
<path d="M596.75,515.4 L595.95,521.4 M598.35,515.4 L597.55,521.4" stroke="#3a3a3a" stroke-width="0.6" fill="none"/>
<path d="M595.2,517.45 L599,517.45 M595.1,519.45 L598.9,519.45" stroke="#2a2a2a" stroke-width="0.85" fill="none"/>
<path d="M617.75,533.25 L616.95,539.25 M619.35,533.25 L618.55,539.25" stroke="#3a3a3a" stroke-width="0.6" fill="none"/>
<path d="M616.2,535.3 L620,535.3 M616.1,537.3 L619.9,537.3" stroke="#2a2a2a" stroke-width="0.85" fill="none"/>
<path d="M659.55,558.9 L658.75,564.9 M661.15,558.9 L660.35,564.9" stroke="#3a3a3a" stroke-width="0.6" fill="none"/>
<path d="M658,560.95 L661.8,560.95 M657.9,562.95 L661.7,562.95" stroke="#2a2a2a" stroke-width="0.85" fill="none"/>
<text x="528.7" y="604.5" font-size="9.3" text-anchor="middle" fill="#000" font-weight="normal" textLength="76.5" lengthAdjust="spacingAndGlyphs" stroke="#000" stroke-width="0.22">Apnea duration (%)</text>
</svg>
</body></html>
